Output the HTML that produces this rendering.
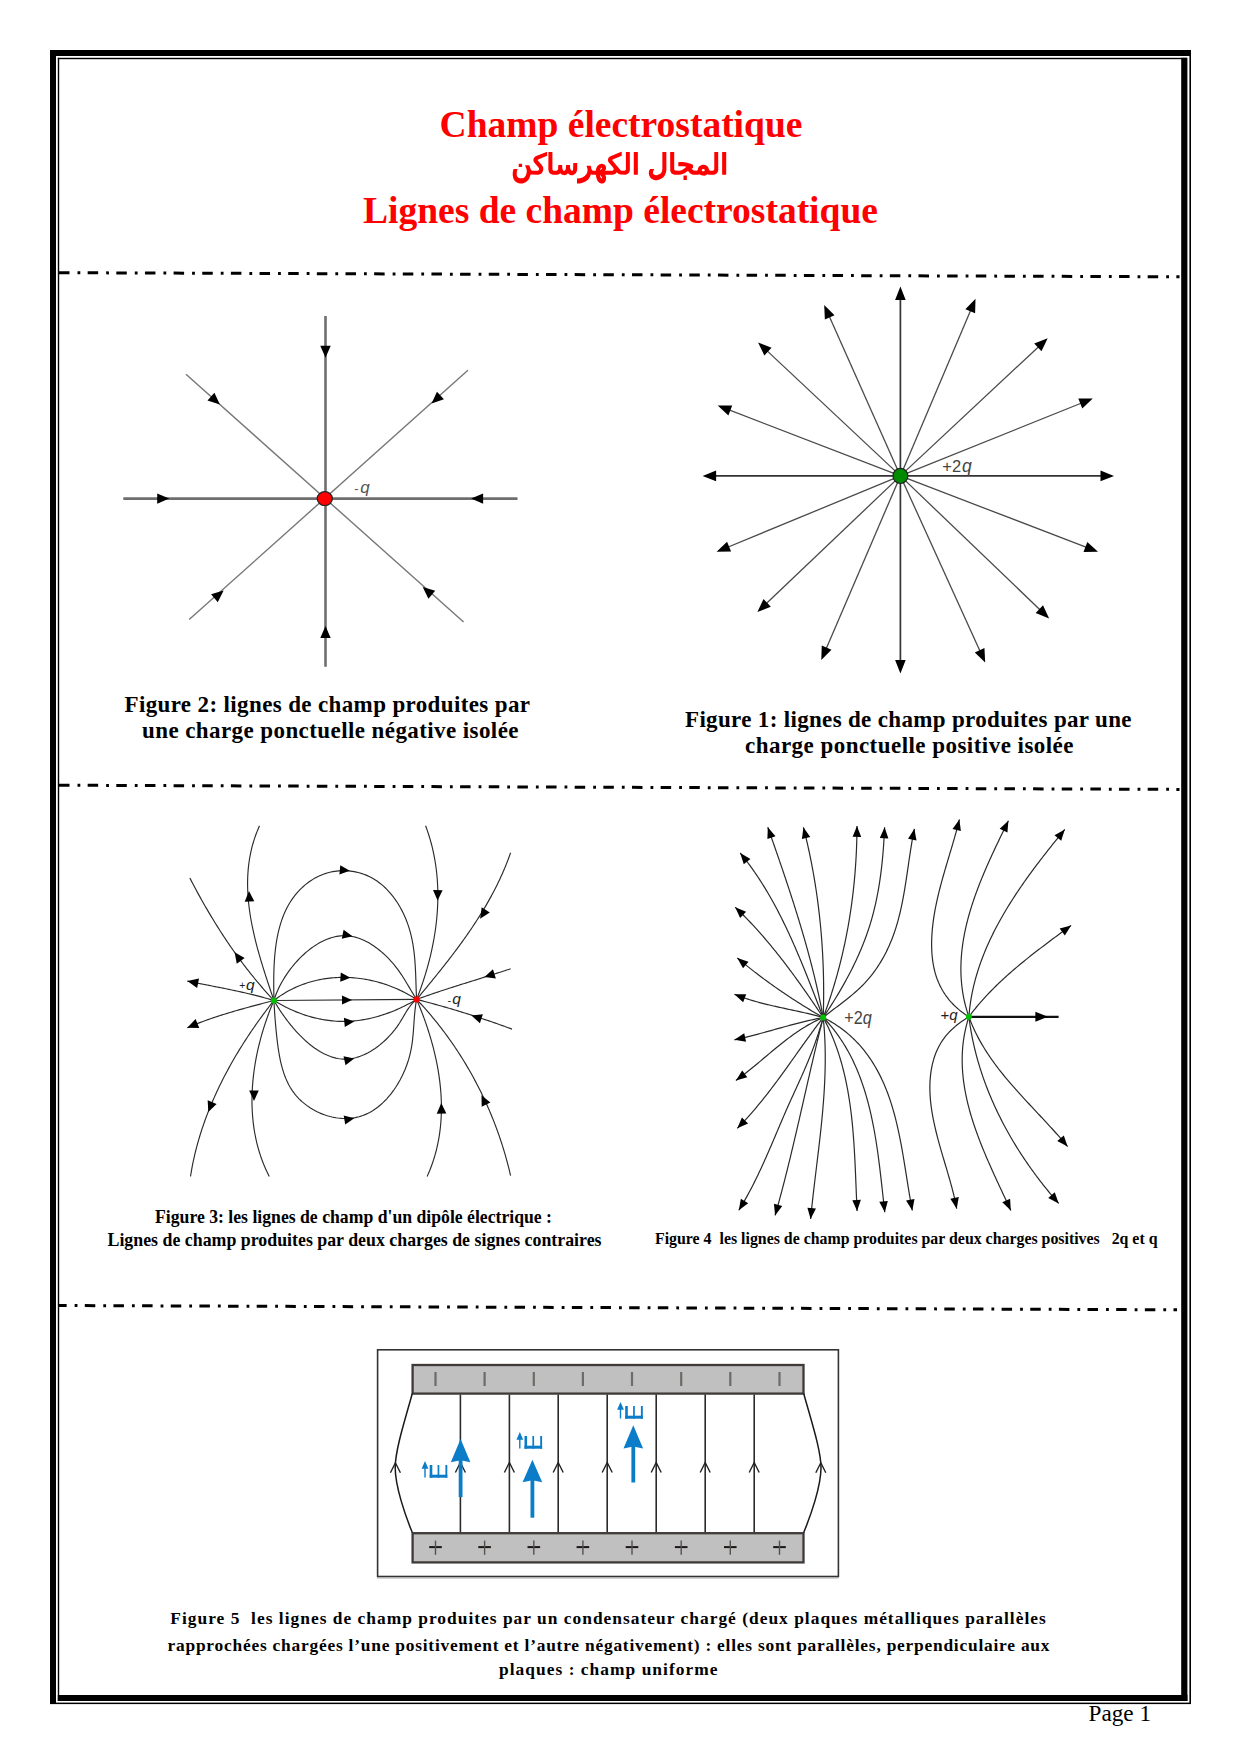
<!DOCTYPE html>
<html><head><meta charset="utf-8"><title>Champ électrostatique</title>
<style>html,body{margin:0;padding:0;background:#fff}body{width:1240px;height:1754px;position:relative;overflow:hidden;font-family:"Liberation Serif",serif}</style>
</head><body>
<svg width="1240" height="1754" viewBox="0 0 1240 1754" style="position:absolute;left:0;top:0"><g fill="#000"><rect x="50" y="50" width="6" height="1654"/><rect x="50" y="50" width="1141" height="6"/><rect x="1189.4" y="50" width="1.6" height="1654"/><rect x="50" y="1702.6" width="1141" height="1.5"/><rect x="57.8" y="57.8" width="1.4" height="1643.2"/><rect x="57.8" y="57.8" width="1129.2" height="1.4"/><rect x="1181.2" y="57.8" width="6.2" height="1643.2"/><rect x="57.8" y="1695" width="1129.6" height="6"/></g><line x1="59.0" y1="272.7" x2="1179.5" y2="276.8" stroke="#000" stroke-width="3" stroke-dasharray="10.5 8 2.8 7.35" stroke-dashoffset="0.00"/><line x1="59.0" y1="785.2" x2="1179.5" y2="789.4" stroke="#000" stroke-width="3" stroke-dasharray="10.5 8 2.8 7.35" stroke-dashoffset="0.00"/><line x1="59.0" y1="1305.5" x2="1177.0" y2="1309.8" stroke="#000" stroke-width="3" stroke-dasharray="10.5 8 2.8 7.35" stroke-dashoffset="2.85"/><g font-family="Liberation Serif" font-weight="bold" fill="#ff0000" font-size="37.5"><text x="439.6" y="137.4">Champ électrostatique</text><text x="363" y="223.2">Lignes de champ électrostatique</text></g><path fill="#ff0000" fill-rule="evenodd" d="M683.49,175.52 683.49,179.95 686.85,179.95 686.85,175.52ZM518.71,163.76 518.71,167.08 522.08,167.08 522.08,163.76ZM722.50,151.97 722.14,152.24 722.14,174.41 722.50,174.73 725.86,174.73 726.21,174.41 726.21,152.24 725.86,151.97ZM670.14,152.24 670.22,170.40 670.49,171.44 671.29,172.93 671.90,173.63 673.14,174.33 674.65,174.73 679.25,174.73 681.02,174.41 684.02,173.54 684.91,173.10 688.00,170.66 689.06,172.23 690.30,173.45 691.54,174.15 693.57,174.73 697.82,174.73 699.50,174.24 700.21,174.73 701.45,175.30 704.37,175.64 706.31,174.95 707.20,174.24 709.50,174.73 713.83,174.73 714.71,174.50 716.39,173.71 717.01,173.10 717.90,171.53 718.25,170.05 718.16,152.06 714.62,151.97 714.27,152.24 714.27,168.65 714.01,169.96 713.74,170.31 712.94,170.66 710.29,170.66 709.67,170.48 708.88,169.44 708.61,168.13 707.81,166.73 706.22,165.51 705.25,165.07 703.83,164.72 702.60,164.72 701.80,164.90 699.68,165.94 698.62,167.08 698.00,168.39 697.73,169.96 697.20,170.48 696.85,170.66 693.75,170.57 692.87,170.05 691.54,168.56 692.96,168.04 693.04,167.86 693.04,164.98 692.87,164.72 690.66,163.85 685.88,162.54 682.70,162.10 679.78,162.10 678.45,162.28 678.27,162.54 678.36,166.03 678.72,166.21 683.05,166.21 685.17,166.47 686.50,166.82 683.31,169.35 681.46,170.31 679.51,170.66 675.09,170.57 674.47,170.05 674.20,169.26 674.20,152.24 673.85,151.97 670.49,151.97ZM702.60,169.00 703.75,168.91 704.10,169.00 704.54,169.44 704.72,170.57 704.19,171.36 702.68,171.36 701.71,170.92 701.98,169.70ZM666.33,152.06 662.71,151.97 662.35,152.24 662.35,169.09 662.00,171.18 661.47,172.40 660.58,173.45 658.73,174.50 656.52,175.18 654.83,175.07 653.68,174.33 653.15,173.80 652.89,173.19 653.07,171.53 654.04,169.52 653.95,169.09 650.06,169.09 649.26,170.40 649.00,171.27 648.82,172.75 648.91,174.06 649.17,175.18 649.79,176.77 650.68,178.02 651.56,178.82 653.42,179.84 655.37,180.29 656.60,180.29 658.99,179.72 661.56,178.59 663.06,177.45 664.56,175.64 665.27,174.33 666.07,172.06 666.42,169.00ZM634.14,151.97 633.78,152.24 633.78,174.41 634.14,174.73 637.50,174.73 637.85,174.41 637.85,152.24 637.50,151.97ZM548.43,152.06 548.34,169.61 548.79,171.62 549.32,172.67 550.02,173.54 551.35,174.33 552.86,174.73 557.28,174.73 558.87,174.24 560.37,173.37 561.35,174.24 562.50,174.84 564.62,175.18 566.65,174.50 567.98,173.37 568.69,174.06 569.75,174.73 570.90,175.18 572.58,175.18 574.61,174.24 575.85,173.10 576.74,171.53 577.18,169.79 577.27,163.24 576.91,162.98 573.29,163.06 573.11,169.17 572.84,170.13 572.22,170.75 571.61,170.75 571.34,170.57 570.37,169.26 570.10,168.21 570.01,165.25 569.66,164.98 566.12,165.07 565.95,167.78 565.68,169.17 565.24,170.13 564.62,170.66 563.65,170.66 563.20,170.40 562.76,169.79 562.23,168.13 562.23,165.25 561.88,164.98 558.60,164.98 558.25,165.16 558.16,168.91 557.81,169.70 557.01,170.48 556.48,170.66 553.65,170.66 553.12,170.48 552.68,170.05 552.41,169.26 552.41,152.24 552.06,151.97ZM629.80,152.06 626.27,151.97 625.91,152.24 625.91,168.74 625.74,169.79 625.12,170.48 624.59,170.66 621.49,170.66 620.78,170.40 612.20,160.18 612.38,159.75 613.26,159.22 621.67,155.82 621.76,152.06 621.67,151.89 621.31,151.80 609.99,156.43 608.84,157.39 608.31,158.35 608.05,159.22 607.96,160.36 608.13,161.32 608.58,162.19 613.09,167.60 613.62,168.48 613.71,169.26 613.53,169.79 612.91,170.40 612.29,170.66 605.30,170.66 605.22,170.57 606.01,169.09 606.01,167.43 605.75,166.38 605.30,165.51 604.69,164.81 602.83,163.94 601.50,163.85 600.53,164.02 599.20,164.55 598.32,165.16 597.34,166.21 596.64,167.43 596.11,169.00 595.84,170.66 592.92,170.66 592.48,170.48 591.95,169.96 591.42,169.00 591.15,167.34 590.62,165.77 587.00,165.68 586.73,165.77 586.64,166.29 587.44,168.74 587.53,170.83 587.26,172.32 586.64,173.63 584.96,175.64 582.93,177.23 580.01,178.25 577.00,178.48 577.00,183.47 579.04,183.59 581.07,183.25 584.43,182.00 586.55,180.75 588.15,179.38 589.21,178.02 590.09,176.43 590.89,174.33 592.21,174.73 595.84,174.73 596.46,178.36 597.52,180.86 598.76,182.34 599.73,183.02 601.24,183.59 602.30,183.59 603.45,183.25 604.60,182.45 605.66,180.63 606.01,178.93 606.01,176.89 605.22,174.84 605.30,174.73 612.73,174.73 613.62,174.50 615.48,173.71 616.89,172.23 617.33,172.84 618.39,173.71 620.61,174.61 625.47,174.73 627.50,174.06 628.92,172.75 629.54,171.53 629.89,170.05ZM600.09,175.18 600.97,175.98 602.12,177.45 602.12,178.13 601.85,178.59 601.50,178.59 600.88,177.79 600.17,176.20 600.00,175.41ZM601.85,167.69 602.12,168.04 602.12,168.56 601.41,169.35 600.09,170.31 600.09,169.79 600.53,168.82 601.41,167.78ZM547.11,151.89 546.49,151.89 535.61,156.34 534.28,157.39 533.75,158.35 533.49,159.22 533.40,160.36 533.57,161.32 534.02,162.19 538.53,167.60 539.06,168.48 539.15,169.26 538.97,169.79 538.35,170.40 537.73,170.66 531.98,170.66 530.65,169.26 530.04,167.25 529.15,165.33 525.26,165.33 525.17,165.86 526.23,168.13 526.76,170.57 526.67,172.75 526.06,174.84 525.52,175.98 524.02,177.68 522.43,178.25 520.31,178.36 518.89,178.02 518.10,177.57 517.21,176.43 516.86,175.41 516.68,173.98 516.77,172.40 517.03,170.83 517.56,169.44 517.48,169.00 513.50,169.00 512.79,171.88 512.70,175.07 513.14,177.68 514.20,180.07 515.09,181.20 516.95,182.56 518.63,183.25 520.22,183.59 522.08,183.59 523.23,183.36 525.61,182.34 527.47,180.86 528.62,179.38 529.33,178.13 530.65,174.61 538.17,174.73 539.94,174.24 541.09,173.63 542.06,172.67 543.04,170.75 543.30,169.35 543.21,167.86 542.86,166.82 541.98,165.33 538.08,160.79 537.64,160.01 538.70,159.22 547.11,155.82Z"/><g font-family="Liberation Serif" font-weight="bold" fill="#000"><text x="124.5" y="711.8" font-size="23" textLength="405.5" lengthAdjust="spacing">Figure 2: lignes de champ produites par</text><text x="142" y="738.2" font-size="23" textLength="376.5" lengthAdjust="spacing">une charge ponctuelle négative isolée</text><text x="685" y="727.0" font-size="23" textLength="446.5" lengthAdjust="spacing">Figure 1: lignes de champ produites par une</text><text x="745" y="752.6" font-size="23" textLength="328.5" lengthAdjust="spacing">charge ponctuelle positive isolée</text><text x="155" y="1222.6" font-size="19" textLength="397" lengthAdjust="spacingAndGlyphs">Figure 3: les lignes de champ d'un dipôle électrique :</text><text x="107.5" y="1246.2" font-size="19" textLength="494" lengthAdjust="spacingAndGlyphs">Lignes de champ produites par deux charges de signes contraires</text><text x="655" y="1243.6" font-size="17" textLength="502.5" lengthAdjust="spacingAndGlyphs" xml:space="preserve">Figure 4  les lignes de champ produites par deux charges positives   2q et q</text><text x="170.3" y="1623.9" font-size="17.4" textLength="875.5" lengthAdjust="spacing" xml:space="preserve">Figure 5  les lignes de champ produites par un condensateur chargé (deux plaques métalliques parallèles</text><text x="167.5" y="1650.6" font-size="17.4" textLength="882" lengthAdjust="spacing">rapprochées chargées l’une positivement et l’autre négativement) : elles sont parallèles, perpendiculaire aux</text><text x="499" y="1674.9" font-size="17.4" textLength="218.5" lengthAdjust="spacing">plaques : champ uniforme</text></g><text x="1088.5" y="1721" font-family="Liberation Serif" font-size="22.5" textLength="62.5" lengthAdjust="spacingAndGlyphs" fill="#000">Page 1</text><g><line x1="325.5" y1="316" x2="325.5" y2="666.8" stroke="#6e6e6e" stroke-width="2.6"/><line x1="123.3" y1="498.6" x2="517.5" y2="498.6" stroke="#6e6e6e" stroke-width="2.6"/><line x1="186" y1="374.3" x2="463.6" y2="622" stroke="#777" stroke-width="1.4"/><line x1="467.9" y1="370.3" x2="189.2" y2="619.6" stroke="#777" stroke-width="1.4"/><path d="M325.5,357.8L320.3,345.8L330.7,345.8Z" fill="#000"/><path d="M325.5,626.1L330.7,638.1L320.3,638.1Z" fill="#000"/><path d="M169.2,498.6L157.2,503.8L157.2,493.4Z" fill="#000"/><path d="M471.1,498.6L483.1,493.4L483.1,503.8Z" fill="#000"/><path d="M219.9,404.6L207.49,400.48L214.42,392.73Z" fill="#000"/><path d="M431.6,403.6L436.93,391.66L443.96,399.32Z" fill="#000"/><path d="M223.6,590.6L217.78,602.31L211.07,594.36Z" fill="#000"/><path d="M422.7,587L435.2,590.85L428.44,598.75Z" fill="#000"/><ellipse cx="324.8" cy="498.6" rx="7.6" ry="6.9" fill="#ff0000" stroke="#222" stroke-width="1.2"/><text x="354.3" y="493.2" font-family="Liberation Sans" font-size="17" fill="#555"><tspan font-size="13">-</tspan><tspan dx="1.6" font-style="italic">q</tspan></text></g><g><line x1="900.4" y1="475.9" x2="900.4" y2="294.5" stroke="#333" stroke-width="1.7"/><path d="M900.4,286.5L905.7,300L895.1,300Z" fill="#000"/><line x1="900.4" y1="475.9" x2="900.4" y2="665.4" stroke="#333" stroke-width="1.7"/><path d="M900.4,673.4L895.1,659.9L905.7,659.9Z" fill="#000"/><line x1="900.4" y1="475.9" x2="710.6" y2="475.9" stroke="#333" stroke-width="1.7"/><path d="M702.6,475.9L716.1,470.6L716.1,481.2Z" fill="#000"/><line x1="900.4" y1="475.9" x2="1106" y2="475.9" stroke="#333" stroke-width="1.7"/><path d="M1114,475.9L1100.5,481.2L1100.5,470.6Z" fill="#000"/><line x1="900.4" y1="475.9" x2="827.46" y2="312.31" stroke="#4a4a4a" stroke-width="1.3"/><path d="M824.2,305L834.54,315.17L824.86,319.49Z" fill="#000"/><line x1="900.4" y1="475.9" x2="972.38" y2="306.17" stroke="#4a4a4a" stroke-width="1.3"/><path d="M975.5,298.8L975.11,313.3L965.35,309.16Z" fill="#000"/><line x1="900.4" y1="475.9" x2="763.93" y2="347.87" stroke="#4a4a4a" stroke-width="1.3"/><path d="M758.1,342.4L771.57,347.77L764.32,355.5Z" fill="#000"/><line x1="900.4" y1="475.9" x2="1041.86" y2="343.66" stroke="#4a4a4a" stroke-width="1.3"/><path d="M1047.7,338.2L1041.46,351.29L1034.22,343.55Z" fill="#000"/><line x1="900.4" y1="475.9" x2="725.17" y2="408.47" stroke="#4a4a4a" stroke-width="1.3"/><path d="M717.7,405.6L732.2,405.5L728.4,415.39Z" fill="#000"/><line x1="900.4" y1="475.9" x2="1085.38" y2="401.49" stroke="#4a4a4a" stroke-width="1.3"/><path d="M1092.8,398.5L1082.25,408.46L1078.3,398.62Z" fill="#000"/><line x1="900.4" y1="475.9" x2="723.99" y2="548.75" stroke="#4a4a4a" stroke-width="1.3"/><path d="M716.6,551.8L727.06,541.75L731.1,551.55Z" fill="#000"/><line x1="900.4" y1="475.9" x2="1090.53" y2="548.93" stroke="#4a4a4a" stroke-width="1.3"/><path d="M1098,551.8L1083.5,551.91L1087.3,542.01Z" fill="#000"/><line x1="900.4" y1="475.9" x2="763.19" y2="606.58" stroke="#4a4a4a" stroke-width="1.3"/><path d="M757.4,612.1L763.52,598.95L770.83,606.63Z" fill="#000"/><line x1="900.4" y1="475.9" x2="1043.33" y2="612.96" stroke="#4a4a4a" stroke-width="1.3"/><path d="M1049.1,618.5L1035.69,612.98L1043.02,605.33Z" fill="#000"/><line x1="900.4" y1="475.9" x2="824.46" y2="652.65" stroke="#4a4a4a" stroke-width="1.3"/><path d="M821.3,660L821.76,645.5L831.5,649.69Z" fill="#000"/><line x1="900.4" y1="475.9" x2="981.89" y2="655.22" stroke="#4a4a4a" stroke-width="1.3"/><path d="M985.2,662.5L974.79,652.4L984.44,648.02Z" fill="#000"/><ellipse cx="900.4" cy="475.9" rx="7.4" ry="7.6" fill="#008a00" stroke="#222" stroke-width="1.2"/><text x="942.3" y="471.8" font-family="Liberation Sans" font-size="16.5" fill="#444">+2<tspan dx="0.8" font-style="italic" font-size="17.5">q</tspan></text></g><g fill="none" stroke="#2b2b2b" stroke-width="1.15"><path d="M273.90,1000.50L273.88,998.72L273.85,996.92L273.83,995.08L273.81,993.23L273.79,991.35L273.77,989.45L273.75,987.53L273.74,985.59L273.74,983.64L273.74,981.66L273.75,979.67L273.77,977.67L273.80,975.65L273.84,973.61L273.89,971.57L273.95,969.52L274.03,967.45L274.12,965.38L274.23,963.31L274.35,961.22L274.49,959.13L274.65,957.04L274.83,954.95L275.03,952.85L275.25,950.76L275.49,948.67L275.75,946.58L276.04,944.49L276.35,942.40L276.69,940.33L277.06,938.26L277.45,936.20L277.88,934.14L278.33,932.10L278.81,930.07L279.33,928.05L279.88,926.05L280.46,924.06L281.08,922.08L281.73,920.13L282.42,918.19L283.14,916.27L283.91,914.37L284.71,912.50L285.56,910.64L286.45,908.81L287.37,907.01L288.35,905.23L289.36,903.49L290.42,901.76L291.53,900.07L292.68,898.42L293.87,896.79L295.11,895.20L296.39,893.64L297.70,892.13L299.06,890.65L300.45,889.21L301.88,887.82L303.35,886.47L304.85,885.16L306.38,883.90L307.95,882.69L309.55,881.53L311.19,880.42L312.85,879.37L314.54,878.36L316.26,877.42L318.00,876.53L319.78,875.70L321.57,874.93L323.39,874.23L325.24,873.58L327.11,873.00L328.99,872.49L330.90,872.04L332.82,871.66L334.75,871.35L336.70,871.09L338.65,870.91L340.61,870.78L342.57,870.72L344.54,870.73L346.50,870.79L348.46,870.92L350.41,871.12L352.35,871.37L354.29,871.69L356.21,872.07L358.11,872.51L360.00,873.02L361.86,873.58L363.70,874.21L365.52,874.90L367.31,875.64L369.06,876.45L370.79,877.32L372.49,878.24L374.16,879.22L375.79,880.26L377.40,881.34L378.97,882.48L380.51,883.67L382.02,884.91L383.50,886.19L384.94,887.52L386.36,888.90L387.74,890.31L389.09,891.77L390.40,893.27L391.68,894.81L392.93,896.38L394.15,897.99L395.33,899.63L396.48,901.30L397.59,903.01L398.67,904.75L399.71,906.51L400.72,908.30L401.70,910.12L402.64,911.96L403.54,913.82L404.41,915.70L405.24,917.60L406.04,919.52L406.80,921.46L407.52,923.41L408.21,925.38L408.86,927.36L409.47,929.34L410.05,931.34L410.59,933.35L411.09,935.36L411.56,937.38L411.99,939.40L412.39,941.43L412.76,943.47L413.11,945.50L413.42,947.54L413.71,949.59L413.97,951.63L414.22,953.68L414.43,955.72L414.63,957.77L414.81,959.81L414.97,961.85L415.12,963.89L415.25,965.93L415.37,967.96L415.47,969.99L415.57,972.01L415.65,974.03L415.73,976.04L415.80,978.04L415.87,980.03L415.93,982.02L416.00,984.00L416.06,985.96L416.12,987.92L416.19,989.87L416.26,991.80L416.33,993.72L416.41,995.63L416.50,997.52L416.60,999.40"/><path d="M273.90,1000.50L274.44,998.77L275.03,997.02L275.67,995.26L276.36,993.48L277.10,991.70L277.89,989.92L278.72,988.12L279.61,986.33L280.53,984.53L281.50,982.74L282.52,980.95L283.57,979.17L284.67,977.39L285.80,975.62L286.98,973.87L288.19,972.12L289.44,970.40L290.73,968.69L292.04,967.00L293.40,965.34L294.78,963.69L296.20,962.08L297.64,960.49L299.12,958.93L300.62,957.41L302.15,955.92L303.71,954.46L305.29,953.04L306.89,951.67L308.52,950.33L310.17,949.04L311.84,947.80L313.52,946.61L315.23,945.46L316.96,944.37L318.70,943.33L320.45,942.35L322.22,941.43L324.01,940.57L325.80,939.77L327.61,939.04L329.42,938.37L331.25,937.78L333.08,937.25L334.92,936.80L336.77,936.42L338.62,936.12L340.47,935.90L342.32,935.76L344.18,935.70L346.04,935.73L347.90,935.84L349.75,936.05L351.60,936.33L353.45,936.70L355.29,937.15L357.13,937.68L358.95,938.28L360.77,938.96L362.58,939.70L364.38,940.52L366.16,941.40L367.93,942.34L369.69,943.34L371.43,944.40L373.15,945.52L374.86,946.69L376.54,947.91L378.21,949.18L379.85,950.49L381.47,951.85L383.06,953.25L384.63,954.69L386.17,956.16L387.69,957.67L389.17,959.21L390.63,960.78L392.05,962.37L393.44,963.99L394.80,965.63L396.12,967.29L397.41,968.97L398.65,970.66L399.86,972.36L401.04,974.08L402.18,975.80L403.29,977.52L404.38,979.25L405.44,980.98L406.48,982.71L407.51,984.43L408.53,986.15L409.53,987.86L410.53,989.56L411.53,991.24L412.53,992.91L413.53,994.57L414.54,996.20L415.56,997.81L416.60,999.40"/><path d="M273.90,1000.50L275.58,999.22L277.27,997.98L278.98,996.77L280.70,995.61L282.44,994.48L284.20,993.39L285.97,992.34L287.76,991.32L289.56,990.34L291.37,989.40L293.20,988.50L295.04,987.63L296.89,986.80L298.75,986.01L300.62,985.25L302.51,984.53L304.40,983.84L306.31,983.19L308.22,982.57L310.15,981.99L312.08,981.45L314.02,980.94L315.97,980.46L317.92,980.02L319.89,979.62L321.85,979.24L323.83,978.91L325.81,978.60L327.79,978.33L329.78,978.10L331.77,977.89L333.77,977.72L335.77,977.59L337.77,977.48L339.78,977.41L341.78,977.37L343.79,977.37L345.80,977.39L347.81,977.45L349.82,977.54L351.83,977.66L353.84,977.82L355.84,978.00L357.85,978.22L359.85,978.46L361.85,978.74L363.84,979.05L365.84,979.39L367.82,979.76L369.81,980.15L371.79,980.58L373.76,981.04L375.73,981.53L377.69,982.05L379.64,982.59L381.59,983.17L383.53,983.77L385.46,984.41L387.38,985.07L389.30,985.76L391.20,986.48L393.09,987.22L394.98,988.00L396.85,988.80L398.71,989.63L400.56,990.49L402.40,991.37L404.22,992.28L406.03,993.22L407.83,994.19L409.61,995.18L411.38,996.19L413.14,997.24L414.88,998.31L416.60,999.40"/><path d="M273.90,1000.50L274.00,1002.44L274.11,1004.38L274.23,1006.32L274.35,1008.26L274.47,1010.20L274.60,1012.15L274.73,1014.10L274.88,1016.05L275.02,1018.01L275.18,1019.97L275.34,1021.95L275.51,1023.92L275.68,1025.91L275.86,1027.90L276.06,1029.90L276.26,1031.91L276.46,1033.93L276.68,1035.96L276.91,1038.01L277.14,1040.06L277.39,1042.12L277.65,1044.19L277.93,1046.27L278.22,1048.35L278.54,1050.43L278.87,1052.51L279.23,1054.59L279.60,1056.66L280.01,1058.73L280.44,1060.79L280.91,1062.84L281.40,1064.88L281.93,1066.90L282.49,1068.91L283.09,1070.90L283.73,1072.87L284.41,1074.83L285.13,1076.75L285.89,1078.65L286.71,1080.53L287.56,1082.37L288.47,1084.18L289.43,1085.96L290.44,1087.71L291.51,1089.42L292.64,1091.08L293.82,1092.71L295.05,1094.30L296.34,1095.84L297.68,1097.34L299.08,1098.80L300.51,1100.21L301.99,1101.58L303.52,1102.90L305.09,1104.17L306.69,1105.40L308.33,1106.57L310.01,1107.70L311.72,1108.77L313.46,1109.80L315.22,1110.77L317.02,1111.68L318.84,1112.55L320.68,1113.36L322.54,1114.11L324.42,1114.80L326.32,1115.44L328.23,1116.02L330.15,1116.54L332.08,1117.01L334.02,1117.41L335.97,1117.75L337.92,1118.02L339.87,1118.24L341.83,1118.38L343.78,1118.47L345.72,1118.49L347.66,1118.44L349.59,1118.32L351.51,1118.14L353.42,1117.88L355.31,1117.56L357.19,1117.16L359.05,1116.70L360.89,1116.16L362.70,1115.55L364.49,1114.86L366.26,1114.11L368.00,1113.28L369.72,1112.39L371.41,1111.44L373.07,1110.42L374.71,1109.34L376.32,1108.21L377.90,1107.01L379.45,1105.77L380.98,1104.47L382.48,1103.12L383.94,1101.71L385.38,1100.27L386.78,1098.78L388.15,1097.24L389.50,1095.67L390.81,1094.05L392.08,1092.40L393.33,1090.71L394.53,1088.99L395.71,1087.24L396.85,1085.46L397.95,1083.66L399.02,1081.82L400.06,1079.97L401.05,1078.09L402.01,1076.19L402.93,1074.28L403.81,1072.35L404.66,1070.41L405.46,1068.46L406.22,1066.50L406.95,1064.52L407.63,1062.55L408.27,1060.57L408.87,1058.59L409.43,1056.61L409.94,1054.63L410.41,1052.66L410.84,1050.69L411.23,1048.73L411.58,1046.77L411.89,1044.82L412.17,1042.87L412.43,1040.92L412.65,1038.98L412.86,1037.04L413.05,1035.10L413.22,1033.16L413.37,1031.21L413.52,1029.27L413.66,1027.32L413.79,1025.37L413.93,1023.42L414.06,1021.46L414.21,1019.50L414.36,1017.53L414.52,1015.55L414.69,1013.56L414.89,1011.57L415.10,1009.57L415.34,1007.56L415.61,1005.54L415.91,1003.50L416.23,1001.46L416.60,999.40"/><path d="M273.90,1000.50L274.79,1002.02L275.71,1003.56L276.66,1005.13L277.65,1006.72L278.67,1008.32L279.73,1009.94L280.81,1011.57L281.93,1013.22L283.08,1014.87L284.26,1016.52L285.46,1018.18L286.70,1019.84L287.96,1021.50L289.25,1023.15L290.57,1024.80L291.92,1026.44L293.29,1028.06L294.68,1029.67L296.10,1031.27L297.55,1032.84L299.02,1034.40L300.51,1035.93L302.02,1037.43L303.55,1038.90L305.11,1040.34L306.68,1041.75L308.28,1043.12L309.89,1044.45L311.52,1045.75L313.17,1046.99L314.84,1048.19L316.52,1049.34L318.22,1050.45L319.93,1051.49L321.66,1052.48L323.41,1053.41L325.16,1054.29L326.93,1055.09L328.71,1055.83L330.51,1056.51L332.31,1057.11L334.13,1057.64L335.95,1058.09L337.79,1058.46L339.63,1058.75L341.48,1058.96L343.34,1059.09L345.20,1059.12L347.07,1059.07L348.95,1058.92L350.82,1058.68L352.70,1058.36L354.58,1057.95L356.46,1057.46L358.34,1056.89L360.20,1056.24L362.06,1055.52L363.91,1054.73L365.75,1053.87L367.58,1052.95L369.39,1051.96L371.18,1050.91L372.95,1049.81L374.70,1048.65L376.43,1047.44L378.13,1046.18L379.81,1044.87L381.46,1043.52L383.08,1042.13L384.66,1040.70L386.21,1039.24L387.73,1037.74L389.20,1036.21L390.64,1034.66L392.03,1033.07L393.38,1031.47L394.69,1029.85L395.94,1028.21L397.15,1026.56L398.30,1024.90L399.41,1023.22L400.46,1021.55L401.47,1019.87L402.46,1018.19L403.44,1016.52L404.41,1014.85L405.39,1013.20L406.39,1011.56L407.42,1009.94L408.50,1008.34L409.64,1006.77L410.85,1005.22L412.13,1003.71L413.51,1002.23L415.00,1000.80L416.60,999.40"/><path d="M273.90,1000.50L275.66,1001.56L277.43,1002.60L279.21,1003.62L281.00,1004.61L282.81,1005.57L284.62,1006.51L286.44,1007.43L288.28,1008.32L290.12,1009.18L291.97,1010.01L293.83,1010.82L295.69,1011.60L297.57,1012.35L299.45,1013.08L301.34,1013.78L303.24,1014.45L305.14,1015.09L307.05,1015.70L308.97,1016.28L310.89,1016.83L312.82,1017.36L314.75,1017.85L316.69,1018.31L318.64,1018.74L320.58,1019.14L322.54,1019.51L324.49,1019.85L326.45,1020.16L328.41,1020.43L330.38,1020.67L332.35,1020.88L334.32,1021.05L336.29,1021.20L338.27,1021.31L340.24,1021.38L342.22,1021.42L344.20,1021.43L346.18,1021.40L348.16,1021.34L350.14,1021.24L352.12,1021.11L354.10,1020.94L356.07,1020.74L358.05,1020.51L360.02,1020.24L362.00,1019.94L363.96,1019.61L365.93,1019.25L367.89,1018.86L369.85,1018.44L371.81,1017.99L373.76,1017.50L375.71,1016.99L377.65,1016.46L379.59,1015.89L381.52,1015.30L383.44,1014.67L385.36,1014.03L387.27,1013.35L389.17,1012.65L391.07,1011.93L392.95,1011.18L394.83,1010.41L396.70,1009.61L398.57,1008.79L400.42,1007.94L402.26,1007.08L404.09,1006.19L405.91,1005.28L407.72,1004.35L409.52,1003.40L411.31,1002.43L413.09,1001.44L414.85,1000.43L416.60,999.40"/><path d="M273.90,1000.50L416.60,999.40"/><path d="M273.90,1000.50L273.27,998.63L272.64,996.75L272.01,994.87L271.38,992.99L270.75,991.10L270.11,989.20L269.48,987.30L268.85,985.40L268.22,983.49L267.59,981.58L266.96,979.66L266.33,977.74L265.71,975.82L265.09,973.89L264.48,971.96L263.87,970.02L263.26,968.08L262.66,966.14L262.06,964.20L261.47,962.25L260.88,960.30L260.31,958.34L259.74,956.38L259.17,954.42L258.62,952.46L258.07,950.49L257.53,948.53L257.01,946.56L256.49,944.58L255.98,942.61L255.48,940.63L255.00,938.65L254.52,936.67L254.06,934.69L253.61,932.70L253.17,930.71L252.74,928.73L252.33,926.74L251.93,924.75L251.55,922.76L251.18,920.76L250.83,918.77L250.49,916.77L250.17,914.78L249.87,912.78L249.58,910.79L249.31,908.79L249.06,906.79L248.83,904.79L248.61,902.80L248.42,900.80L248.24,898.80L248.08,896.80L247.95,894.80L247.83,892.81L247.74,890.81L247.67,888.81L247.62,886.82L247.60,884.82L247.59,882.83L247.61,880.83L247.66,878.84L247.73,876.85L247.82,874.86L247.94,872.87L248.09,870.88L248.26,868.90L248.45,866.91L248.68,864.93L248.93,862.95L249.21,860.97L249.52,859.00L249.86,857.02L250.22,855.05L250.62,853.08L251.04,851.11L251.50,849.15L251.98,847.18L252.50,845.22L253.05,843.27L253.63,841.31L254.25,839.36L254.90,837.41L255.58,835.47L256.29,833.53L257.04,831.59L257.83,829.66L258.65,827.73L259.50,825.80"/><path d="M273.90,1000.50L272.52,999.02L271.15,997.54L269.78,996.05L268.43,994.56L267.08,993.06L265.74,991.55L264.40,990.04L263.08,988.53L261.76,987.00L260.45,985.47L259.14,983.94L257.84,982.40L256.55,980.86L255.27,979.31L254.00,977.75L252.73,976.19L251.46,974.62L250.21,973.05L248.96,971.47L247.72,969.89L246.49,968.31L245.26,966.71L244.04,965.12L242.83,963.51L241.62,961.91L240.42,960.30L239.23,958.68L238.04,957.06L236.86,955.43L235.69,953.80L234.52,952.17L233.36,950.53L232.21,948.88L231.06,947.23L229.92,945.58L228.78,943.92L227.65,942.26L226.53,940.59L225.41,938.92L224.30,937.24L223.20,935.57L222.10,933.88L221.01,932.19L219.92,930.50L218.84,928.81L217.77,927.11L216.70,925.40L215.63,923.70L214.58,921.98L213.53,920.27L212.48,918.55L211.44,916.83L210.41,915.10L209.38,913.37L208.35,911.64L207.34,909.90L206.32,908.16L205.32,906.42L204.31,904.67L203.32,902.92L202.33,901.17L201.34,899.41L200.36,897.65L199.38,895.89L198.41,894.12L197.45,892.36L196.49,890.58L195.53,888.81L194.58,887.03L193.64,885.25L192.69,883.47L191.76,881.68L190.83,879.89L189.90,878.10"/><path d="M273.90,1000.50L271.97,999.91L270.03,999.34L268.09,998.78L266.14,998.22L264.20,997.68L262.25,997.15L260.30,996.63L258.35,996.12L256.40,995.62L254.44,995.12L252.48,994.64L250.52,994.16L248.56,993.69L246.60,993.23L244.63,992.78L242.66,992.33L240.70,991.89L238.73,991.46L236.75,991.03L234.78,990.61L232.81,990.19L230.83,989.77L228.86,989.36L226.88,988.96L224.91,988.56L222.93,988.16L220.95,987.76L218.97,987.37L216.99,986.98L215.01,986.59L213.03,986.20L211.05,985.81L209.07,985.42L207.09,985.03L205.11,984.65L203.13,984.26L201.15,983.87L199.17,983.48L197.19,983.09L195.21,982.70L193.23,982.30L191.25,981.91L189.28,981.50L187.30,981.10"/><path d="M273.90,1000.50L271.95,1001.01L270.00,1001.52L268.04,1002.03L266.09,1002.54L264.14,1003.05L262.19,1003.56L260.23,1004.08L258.28,1004.59L256.33,1005.11L254.38,1005.63L252.43,1006.16L250.48,1006.68L248.53,1007.21L246.58,1007.75L244.63,1008.28L242.69,1008.83L240.74,1009.37L238.80,1009.92L236.86,1010.48L234.92,1011.04L232.98,1011.61L231.05,1012.18L229.11,1012.76L227.18,1013.35L225.25,1013.94L223.32,1014.54L221.40,1015.15L219.47,1015.76L217.56,1016.39L215.64,1017.02L213.72,1017.66L211.81,1018.31L209.91,1018.97L208.00,1019.64L206.10,1020.31L204.20,1021.00L202.31,1021.70L200.42,1022.41L198.53,1023.13L196.65,1023.86L194.77,1024.61L192.90,1025.36L191.03,1026.13L189.16,1026.91L187.30,1027.70"/><path d="M273.90,1000.50L272.68,1002.05L271.46,1003.61L270.24,1005.17L269.03,1006.74L267.83,1008.32L266.63,1009.90L265.43,1011.49L264.24,1013.09L263.06,1014.69L261.88,1016.30L260.70,1017.91L259.53,1019.53L258.36,1021.15L257.20,1022.78L256.05,1024.42L254.90,1026.06L253.76,1027.71L252.62,1029.36L251.49,1031.02L250.37,1032.69L249.25,1034.36L248.14,1036.04L247.03,1037.72L245.93,1039.40L244.84,1041.10L243.75,1042.79L242.68,1044.50L241.60,1046.21L240.54,1047.92L239.48,1049.64L238.43,1051.36L237.39,1053.09L236.35,1054.82L235.33,1056.56L234.31,1058.31L233.30,1060.06L232.29,1061.81L231.30,1063.57L230.31,1065.33L229.33,1067.10L228.36,1068.88L227.40,1070.65L226.44,1072.44L225.50,1074.22L224.56,1076.02L223.64,1077.81L222.72,1079.61L221.81,1081.42L220.91,1083.23L220.02,1085.04L219.14,1086.86L218.27,1088.68L217.41,1090.51L216.56,1092.34L215.71,1094.18L214.88,1096.02L214.06,1097.86L213.25,1099.71L212.45,1101.56L211.66,1103.42L210.88,1105.28L210.11,1107.14L209.35,1109.01L208.61,1110.88L207.87,1112.76L207.15,1114.64L206.43,1116.52L205.73,1118.40L205.04,1120.29L204.36,1122.19L203.69,1124.09L203.04,1125.99L202.40,1127.89L201.76,1129.80L201.14,1131.71L200.54,1133.62L199.94,1135.54L199.36,1137.46L198.79,1139.39L198.23,1141.31L197.69,1143.24L197.16,1145.18L196.64,1147.11L196.13,1149.05L195.64,1150.99L195.16,1152.94L194.70,1154.89L194.25,1156.84L193.81,1158.79L193.38,1160.75L192.97,1162.71L192.58,1164.67L192.19,1166.64L191.83,1168.60L191.47,1170.57L191.13,1172.55L190.81,1174.52L190.50,1176.50"/><path d="M273.90,1000.50L273.13,1002.31L272.37,1004.14L271.62,1005.97L270.89,1007.81L270.16,1009.66L269.44,1011.52L268.74,1013.39L268.05,1015.26L267.37,1017.15L266.70,1019.04L266.04,1020.94L265.40,1022.85L264.76,1024.76L264.15,1026.68L263.54,1028.61L262.95,1030.55L262.37,1032.49L261.80,1034.43L261.25,1036.39L260.71,1038.34L260.18,1040.31L259.67,1042.28L259.18,1044.25L258.70,1046.23L258.23,1048.21L257.78,1050.20L257.34,1052.19L256.92,1054.19L256.52,1056.19L256.13,1058.19L255.76,1060.20L255.40,1062.21L255.06,1064.22L254.74,1066.24L254.43,1068.25L254.14,1070.27L253.87,1072.29L253.62,1074.32L253.38,1076.34L253.16,1078.37L252.96,1080.40L252.78,1082.42L252.61,1084.45L252.47,1086.48L252.34,1088.51L252.23,1090.54L252.14,1092.57L252.07,1094.60L252.02,1096.62L251.99,1098.65L251.98,1100.68L251.99,1102.70L252.02,1104.72L252.07,1106.75L252.15,1108.77L252.24,1110.78L252.35,1112.80L252.49,1114.81L252.65,1116.82L252.83,1118.82L253.03,1120.83L253.25,1122.83L253.50,1124.82L253.76,1126.81L254.05,1128.80L254.37,1130.78L254.71,1132.76L255.07,1134.74L255.45,1136.71L255.86,1138.67L256.29,1140.63L256.74,1142.58L257.22,1144.53L257.73,1146.47L258.26,1148.40L258.81,1150.33L259.39,1152.25L260.00,1154.16L260.63,1156.07L261.28,1157.97L261.96,1159.86L262.67,1161.74L263.41,1163.62L264.17,1165.48L264.95,1167.34L265.77,1169.19L266.61,1171.03L267.48,1172.87L268.38,1174.69L269.30,1176.50"/><path d="M425.60,825.80L426.31,827.72L427.01,829.65L427.67,831.58L428.32,833.52L428.94,835.46L429.54,837.40L430.12,839.35L430.68,841.30L431.21,843.26L431.72,845.22L432.21,847.18L432.68,849.15L433.13,851.12L433.56,853.09L433.96,855.07L434.34,857.04L434.71,859.03L435.05,861.01L435.37,863.00L435.67,864.99L435.95,866.98L436.22,868.97L436.46,870.97L436.68,872.97L436.88,874.97L437.06,876.97L437.23,878.98L437.37,880.98L437.49,882.99L437.60,884.99L437.69,887.00L437.76,889.01L437.81,891.02L437.84,893.04L437.85,895.05L437.85,897.06L437.83,899.07L437.79,901.09L437.73,903.10L437.65,905.11L437.56,907.13L437.45,909.14L437.33,911.15L437.19,913.16L437.03,915.18L436.85,917.19L436.66,919.20L436.45,921.21L436.23,923.21L435.99,925.22L435.73,927.23L435.46,929.23L435.17,931.23L434.87,933.24L434.55,935.23L434.22,937.23L433.88,939.23L433.51,941.22L433.14,943.21L432.75,945.20L432.34,947.19L431.92,949.17L431.49,951.15L431.05,953.13L430.59,955.10L430.11,957.07L429.63,959.04L429.13,961.00L428.61,962.97L428.09,964.92L427.55,966.88L427.00,968.83L426.43,970.77L425.86,972.71L425.27,974.65L424.67,976.59L424.06,978.51L423.44,980.44L422.80,982.36L422.16,984.27L421.50,986.18L420.83,988.09L420.15,989.99L419.46,991.88L418.76,993.77L418.05,995.65L417.33,997.53L416.60,999.40"/><path d="M510.60,852.70L509.92,854.62L509.24,856.54L508.53,858.44L507.82,860.34L507.09,862.23L506.34,864.12L505.59,866.00L504.82,867.87L504.03,869.73L503.24,871.58L502.43,873.43L501.61,875.28L500.77,877.11L499.93,878.94L499.07,880.76L498.20,882.58L497.32,884.38L496.43,886.19L495.52,887.98L494.61,889.77L493.68,891.56L492.75,893.33L491.80,895.10L490.84,896.87L489.87,898.63L488.89,900.38L487.91,902.13L486.91,903.87L485.90,905.61L484.88,907.34L483.86,909.06L482.82,910.78L481.77,912.50L480.72,914.21L479.66,915.91L478.59,917.61L477.51,919.31L476.42,921.00L475.33,922.68L474.22,924.36L473.11,926.04L471.99,927.71L470.87,929.38L469.74,931.04L468.60,932.69L467.45,934.35L466.30,936.00L465.14,937.64L463.97,939.28L462.80,940.92L461.62,942.55L460.43,944.18L459.24,945.81L458.05,947.43L456.85,949.05L455.64,950.66L454.43,952.27L453.22,953.88L452.00,955.49L450.77,957.09L449.54,958.69L448.31,960.28L447.07,961.87L445.83,963.46L444.58,965.05L443.34,966.63L442.08,968.22L440.83,969.79L439.57,971.37L438.31,972.94L437.05,974.51L435.78,976.08L434.51,977.65L433.24,979.22L431.97,980.78L430.69,982.34L429.42,983.90L428.14,985.46L426.86,987.01L425.58,988.56L424.30,990.12L423.02,991.67L421.73,993.22L420.45,994.76L419.17,996.31L417.88,997.86L416.60,999.40"/><path d="M510.60,968.80L508.68,969.43L506.77,970.06L504.85,970.69L502.93,971.31L501.01,971.93L499.09,972.55L497.17,973.17L495.25,973.78L493.32,974.39L491.40,975.00L489.47,975.61L487.55,976.21L485.62,976.82L483.70,977.42L481.77,978.02L479.85,978.62L477.92,979.23L476.00,979.83L474.07,980.43L472.14,981.03L470.22,981.63L468.29,982.23L466.37,982.83L464.44,983.44L462.52,984.04L460.59,984.65L458.67,985.26L456.74,985.86L454.82,986.48L452.90,987.09L450.98,987.70L449.06,988.32L447.14,988.94L445.22,989.57L443.30,990.19L441.38,990.82L439.47,991.46L437.56,992.09L435.64,992.73L433.73,993.38L431.82,994.03L429.91,994.68L428.01,995.34L426.10,996.00L424.20,996.67L422.29,997.35L420.39,998.02L418.50,998.71L416.60,999.40"/><path d="M512.00,1029.10L510.08,1028.40L508.17,1027.70L506.25,1027.00L504.33,1026.31L502.41,1025.62L500.49,1024.94L498.56,1024.26L496.64,1023.58L494.71,1022.91L492.78,1022.24L490.86,1021.57L488.93,1020.91L486.99,1020.26L485.06,1019.60L483.13,1018.95L481.19,1018.31L479.26,1017.67L477.32,1017.03L475.38,1016.40L473.44,1015.77L471.50,1015.15L469.55,1014.53L467.61,1013.91L465.66,1013.30L463.71,1012.69L461.77,1012.09L459.82,1011.49L457.86,1010.90L455.91,1010.30L453.96,1009.72L452.00,1009.14L450.05,1008.56L448.09,1007.98L446.13,1007.41L444.17,1006.85L442.21,1006.29L440.25,1005.73L438.28,1005.18L436.32,1004.63L434.35,1004.09L432.39,1003.55L430.42,1003.02L428.45,1002.49L426.48,1001.96L424.50,1001.44L422.53,1000.92L420.55,1000.41L418.58,999.90L416.60,999.40"/><path d="M510.60,1175.70L510.15,1173.76L509.69,1171.82L509.22,1169.88L508.75,1167.95L508.26,1166.02L507.75,1164.08L507.24,1162.16L506.72,1160.23L506.19,1158.31L505.65,1156.38L505.10,1154.46L504.54,1152.55L503.97,1150.63L503.38,1148.72L502.79,1146.81L502.19,1144.90L501.58,1143.00L500.95,1141.10L500.32,1139.20L499.68,1137.31L499.02,1135.41L498.36,1133.52L497.69,1131.64L497.01,1129.75L496.31,1127.88L495.61,1126.00L494.90,1124.13L494.18,1122.26L493.44,1120.39L492.70,1118.53L491.95,1116.67L491.19,1114.81L490.42,1112.96L489.64,1111.12L488.85,1109.27L488.05,1107.43L487.24,1105.60L486.42,1103.77L485.59,1101.94L484.75,1100.12L483.91,1098.30L483.05,1096.48L482.18,1094.67L481.31,1092.87L480.42,1091.07L479.53,1089.27L478.62,1087.48L477.71,1085.69L476.79,1083.91L475.85,1082.13L474.91,1080.36L473.96,1078.59L473.00,1076.83L472.03,1075.07L471.06,1073.32L470.07,1071.57L469.07,1069.83L468.07,1068.10L467.05,1066.36L466.03,1064.64L465.00,1062.92L463.96,1061.21L462.91,1059.50L461.85,1057.79L460.78,1056.10L459.70,1054.41L458.61,1052.72L457.52,1051.04L456.42,1049.37L455.30,1047.70L454.18,1046.04L453.05,1044.39L451.91,1042.74L450.77,1041.10L449.61,1039.46L448.45,1037.83L447.27,1036.21L446.09,1034.59L444.90,1032.98L443.70,1031.38L442.50,1029.78L441.28,1028.20L440.06,1026.61L438.82,1025.04L437.58,1023.47L436.33,1021.91L435.07,1020.36L433.81,1018.81L432.53,1017.27L431.25,1015.74L429.96,1014.22L428.66,1012.70L427.35,1011.19L426.04,1009.69L424.71,1008.20L423.38,1006.71L422.04,1005.23L420.69,1003.76L419.34,1002.30L417.97,1000.85L416.60,999.40"/><path d="M427.10,1176.50L427.94,1174.63L428.75,1172.75L429.54,1170.87L430.30,1168.98L431.03,1167.08L431.73,1165.18L432.41,1163.27L433.06,1161.36L433.69,1159.44L434.29,1157.52L434.86,1155.59L435.41,1153.66L435.93,1151.73L436.42,1149.79L436.89,1147.84L437.34,1145.89L437.76,1143.94L438.16,1141.99L438.53,1140.03L438.88,1138.06L439.21,1136.10L439.51,1134.13L439.79,1132.16L440.04,1130.18L440.28,1128.21L440.49,1126.23L440.68,1124.24L440.84,1122.26L440.99,1120.27L441.11,1118.28L441.21,1116.29L441.29,1114.30L441.35,1112.31L441.39,1110.31L441.41,1108.32L441.40,1106.32L441.38,1104.32L441.34,1102.32L441.28,1100.33L441.19,1098.33L441.09,1096.33L440.97,1094.33L440.84,1092.33L440.68,1090.33L440.50,1088.33L440.31,1086.33L440.10,1084.33L439.87,1082.34L439.63,1080.34L439.36,1078.35L439.08,1076.35L438.79,1074.36L438.47,1072.37L438.14,1070.38L437.80,1068.40L437.44,1066.41L437.06,1064.43L436.67,1062.45L436.26,1060.47L435.84,1058.50L435.40,1056.52L434.95,1054.55L434.49,1052.59L434.01,1050.62L433.52,1048.66L433.01,1046.71L432.49,1044.76L431.96,1042.81L431.41,1040.86L430.85,1038.92L430.28,1036.99L429.70,1035.05L429.10,1033.13L428.50,1031.21L427.88,1029.29L427.25,1027.38L426.61,1025.47L425.96,1023.57L425.29,1021.67L424.62,1019.78L423.94,1017.90L423.25,1016.02L422.54,1014.14L421.83,1012.28L421.11,1010.42L420.38,1008.56L419.64,1006.72L418.89,1004.88L418.14,1003.04L417.37,1001.22L416.60,999.40"/></g><g><path d="M349.8,870.8L339.4,874.39L340.3,865.24Z" fill="#000"/><path d="M352.5,936.2L341.79,938.75L343.6,929.73Z" fill="#000"/><path d="M350.5,977.8L340.24,981.79L340.8,972.6Z" fill="#000"/><path d="M354.3,1118.3L345.22,1124.52L343.67,1115.45Z" fill="#000"/><path d="M354.3,1058.6L345.51,1065.22L343.55,1056.23Z" fill="#000"/><path d="M354.3,1021.4L344.81,1026.98L343.89,1017.83Z" fill="#000"/><path d="M352,999.9L342.04,1004.58L341.96,995.38Z" fill="#000"/><path d="M249,891.1L254.28,901.37L244.69,901.81Z" fill="#000"/><path d="M234.6,952.3L244.61,958.06L236.79,963.64Z" fill="#000"/><path d="M187.3,981.1L199.03,978.58L197.13,987.99Z" fill="#000"/><path d="M187.3,1027.7L195.6,1019.03L199.3,1027.89Z" fill="#000"/><path d="M208.3,1111.9L207.67,1100.37L216.6,1103.88Z" fill="#000"/><path d="M254,1101L249.15,1090.52L258.75,1090.48Z" fill="#000"/><path d="M437.6,900.6L433.01,890.01L442.61,890.2Z" fill="#000"/><path d="M480.1,918.7L481.69,907.27L489.79,912.42Z" fill="#000"/><path d="M484.4,977L492.98,969.28L495.85,978.44Z" fill="#000"/><path d="M471.4,1015.5L482.87,1014.14L479.93,1023.28Z" fill="#000"/><path d="M481.5,1095.2L490.36,1102.6L481.7,1106.74Z" fill="#000"/><path d="M441.3,1103.1L446.32,1113.5L436.72,1113.7Z" fill="#000"/><circle cx="273.9" cy="1000.5" r="3.1" fill="#00c000"/><circle cx="416.6" cy="999.4" r="3.1" fill="#ff0000"/><text x="239.3" y="989.6" font-family="Liberation Sans" font-size="15.5" fill="#222"><tspan font-size="10.5" dy="-1">+</tspan><tspan dx="0.5" dy="1" font-style="italic">q</tspan></text><text x="447.6" y="1003.6" font-family="Liberation Sans" font-size="15.5" fill="#222"><tspan font-size="11">-</tspan><tspan dx="1" font-style="italic">q</tspan></text></g><g fill="none" stroke="#2a2a2a" stroke-width="1.2"><path d="M823.20,1017.50L821.24,1016.95L819.27,1016.41L817.30,1015.89L815.32,1015.38L813.35,1014.88L811.36,1014.39L809.38,1013.91L807.40,1013.44L805.41,1012.98L803.42,1012.52L801.42,1012.07L799.43,1011.63L797.44,1011.19L795.44,1010.76L793.44,1010.33L791.45,1009.90L789.45,1009.47L787.45,1009.04L785.45,1008.61L783.46,1008.18L781.46,1007.74L779.47,1007.31L777.47,1006.87L775.48,1006.42L773.49,1005.97L771.50,1005.51L769.51,1005.04L767.53,1004.56L765.55,1004.08L763.57,1003.58L761.59,1003.08L759.62,1002.56L757.65,1002.02L755.69,1001.48L753.73,1000.92L751.77,1000.34L749.82,999.75L747.87,999.14L745.93,998.51L743.99,997.86L742.06,997.19L740.14,996.50L738.22,995.79L736.31,995.06L734.40,994.30"/><path d="M823.20,1017.50L821.45,1016.51L819.71,1015.51L817.97,1014.50L816.23,1013.49L814.50,1012.47L812.77,1011.44L811.04,1010.41L809.32,1009.38L807.60,1008.33L805.88,1007.28L804.17,1006.23L802.46,1005.17L800.75,1004.10L799.05,1003.03L797.35,1001.95L795.65,1000.86L793.96,999.77L792.27,998.67L790.58,997.57L788.90,996.46L787.23,995.35L785.55,994.23L783.88,993.10L782.22,991.97L780.55,990.83L778.90,989.69L777.24,988.54L775.59,987.38L773.95,986.22L772.31,985.06L770.67,983.88L769.03,982.71L767.40,981.52L765.78,980.33L764.16,979.14L762.54,977.94L760.93,976.73L759.32,975.52L757.72,974.31L756.12,973.09L754.53,971.86L752.94,970.62L751.35,969.39L749.77,968.14L748.20,966.89L746.63,965.64L745.06,964.38L743.50,963.11L741.94,961.84L740.39,960.57L738.84,959.29L737.30,958.00"/><path d="M823.20,1017.50L822.07,1015.82L820.95,1014.14L819.82,1012.47L818.69,1010.79L817.55,1009.12L816.42,1007.44L815.28,1005.77L814.14,1004.10L813.00,1002.43L811.86,1000.76L810.72,999.10L809.57,997.43L808.42,995.77L807.27,994.11L806.11,992.45L804.95,990.80L803.79,989.14L802.62,987.49L801.46,985.84L800.29,984.20L799.11,982.55L797.93,980.91L796.75,979.28L795.57,977.64L794.38,976.01L793.18,974.38L791.99,972.76L790.79,971.13L789.58,969.52L788.37,967.90L787.16,966.29L785.94,964.68L784.71,963.08L783.49,961.48L782.25,959.88L781.01,958.29L779.77,956.70L778.52,955.11L777.27,953.54L776.01,951.96L774.74,950.39L773.47,948.82L772.20,947.26L770.92,945.70L769.63,944.15L768.33,942.61L767.03,941.06L765.73,939.53L764.42,937.99L763.10,936.47L761.77,934.95L760.44,933.43L759.10,931.92L757.75,930.42L756.40,928.92L755.04,927.43L753.67,925.94L752.30,924.46L750.92,922.99L749.53,921.52L748.13,920.06L746.73,918.60L745.31,917.15L743.89,915.71L742.47,914.27L741.03,912.85L739.58,911.42L738.13,910.01L736.67,908.60L735.20,907.20"/><path d="M823.20,1017.50L822.48,1015.64L821.75,1013.78L821.03,1011.91L820.31,1010.05L819.58,1008.18L818.86,1006.31L818.14,1004.44L817.41,1002.57L816.69,1000.70L815.96,998.83L815.23,996.95L814.51,995.08L813.78,993.20L813.05,991.33L812.32,989.45L811.58,987.58L810.85,985.70L810.11,983.82L809.37,981.95L808.63,980.07L807.88,978.20L807.14,976.32L806.39,974.45L805.64,972.58L804.88,970.70L804.12,968.83L803.36,966.96L802.60,965.09L801.83,963.22L801.06,961.35L800.28,959.49L799.50,957.63L798.72,955.76L797.93,953.90L797.14,952.04L796.34,950.19L795.54,948.33L794.74,946.48L793.92,944.63L793.11,942.78L792.29,940.94L791.46,939.10L790.63,937.26L789.79,935.42L788.95,933.59L788.10,931.76L787.24,929.93L786.38,928.11L785.51,926.29L784.64,924.48L783.76,922.66L782.87,920.86L781.98,919.05L781.08,917.25L780.17,915.46L779.25,913.66L778.33,911.88L777.40,910.09L776.46,908.32L775.51,906.54L774.56,904.77L773.59,903.01L772.62,901.25L771.64,899.50L770.65,897.75L769.66,896.01L768.65,894.27L767.64,892.54L766.61,890.82L765.58,889.10L764.53,887.38L763.48,885.68L762.42,883.98L761.35,882.28L760.27,880.59L759.17,878.91L758.07,877.24L756.96,875.57L755.83,873.91L754.70,872.26L753.56,870.61L752.40,868.97L751.23,867.34L750.05,865.71L748.86,864.10L747.66,862.49L746.45,860.88L745.22,859.29L743.99,857.71L742.74,856.13L741.48,854.56L740.20,853.00"/><path d="M823.20,1017.50L822.83,1015.53L822.46,1013.56L822.08,1011.60L821.70,1009.63L821.31,1007.67L820.92,1005.71L820.52,1003.75L820.11,1001.79L819.70,999.83L819.29,997.87L818.86,995.91L818.44,993.96L818.01,992.00L817.57,990.05L817.13,988.10L816.68,986.15L816.23,984.20L815.77,982.25L815.31,980.30L814.85,978.35L814.38,976.41L813.90,974.46L813.42,972.52L812.94,970.58L812.45,968.63L811.96,966.69L811.46,964.75L810.96,962.82L810.45,960.88L809.94,958.94L809.43,957.01L808.91,955.07L808.38,953.14L807.86,951.21L807.33,949.27L806.79,947.34L806.26,945.41L805.71,943.48L805.17,941.56L804.62,939.63L804.07,937.70L803.51,935.78L802.95,933.85L802.39,931.93L801.82,930.01L801.25,928.09L800.68,926.17L800.10,924.25L799.52,922.33L798.94,920.41L798.36,918.49L797.77,916.58L797.18,914.66L796.58,912.75L795.99,910.83L795.39,908.92L794.78,907.01L794.18,905.09L793.57,903.18L792.96,901.27L792.35,899.36L791.73,897.46L791.12,895.55L790.50,893.64L789.88,891.73L789.25,889.83L788.63,887.92L788.00,886.02L787.37,884.12L786.73,882.21L786.10,880.31L785.46,878.41L784.83,876.51L784.19,874.61L783.55,872.71L782.90,870.81L782.26,868.91L781.61,867.02L780.97,865.12L780.32,863.22L779.67,861.33L779.02,859.43L778.36,857.54L777.71,855.64L777.06,853.75L776.40,851.86L775.74,849.96L775.09,848.07L774.43,846.18L773.77,844.29L773.11,842.40L772.44,840.51L771.78,838.62L771.12,836.73L770.46,834.85L769.79,832.96L769.13,831.07L768.47,829.19L767.80,827.30"/><path d="M823.20,1017.50L823.27,1015.51L823.33,1013.52L823.39,1011.53L823.44,1009.54L823.48,1007.54L823.52,1005.55L823.56,1003.55L823.59,1001.56L823.61,999.56L823.63,997.56L823.64,995.57L823.65,993.57L823.65,991.57L823.64,989.57L823.63,987.57L823.62,985.57L823.60,983.57L823.57,981.57L823.54,979.57L823.50,977.57L823.45,975.57L823.40,973.57L823.35,971.57L823.29,969.56L823.22,967.56L823.15,965.56L823.07,963.56L822.98,961.56L822.89,959.55L822.80,957.55L822.70,955.55L822.59,953.55L822.48,951.55L822.36,949.55L822.23,947.54L822.10,945.54L821.97,943.54L821.82,941.54L821.68,939.54L821.52,937.54L821.36,935.54L821.20,933.55L821.03,931.55L820.85,929.55L820.67,927.55L820.48,925.56L820.28,923.56L820.08,921.57L819.88,919.57L819.66,917.58L819.45,915.59L819.22,913.60L818.99,911.60L818.76,909.61L818.51,907.63L818.27,905.64L818.01,903.65L817.75,901.66L817.49,899.68L817.22,897.70L816.94,895.71L816.66,893.73L816.37,891.75L816.07,889.77L815.77,887.79L815.46,885.82L815.15,883.84L814.83,881.87L814.50,879.90L814.17,877.92L813.83,875.95L813.49,873.99L813.14,872.02L812.78,870.06L812.42,868.09L812.05,866.13L811.68,864.17L811.30,862.21L810.91,860.26L810.52,858.30L810.12,856.35L809.72,854.40L809.31,852.45L808.89,850.50L808.47,848.56L808.04,846.61L807.60,844.67L807.16,842.73L806.71,840.80L806.26,838.86L805.80,836.93L805.33,835.00L804.86,833.07L804.38,831.14L803.89,829.22L803.40,827.30"/><path d="M823.20,1017.50L823.91,1015.60L824.61,1013.70L825.30,1011.80L825.99,1009.90L826.66,1008.00L827.33,1006.09L827.99,1004.18L828.65,1002.27L829.29,1000.35L829.93,998.44L830.56,996.52L831.18,994.60L831.80,992.68L832.40,990.76L833.00,988.83L833.59,986.90L834.18,984.97L834.75,983.04L835.32,981.11L835.88,979.17L836.43,977.24L836.98,975.30L837.51,973.36L838.04,971.41L838.56,969.47L839.08,967.52L839.58,965.57L840.08,963.62L840.57,961.67L841.06,959.72L841.53,957.76L842.00,955.81L842.46,953.85L842.91,951.89L843.36,949.93L843.80,947.97L844.23,946.00L844.65,944.03L845.07,942.07L845.48,940.10L845.88,938.13L846.27,936.15L846.66,934.18L847.04,932.21L847.41,930.23L847.77,928.25L848.13,926.27L848.48,924.29L848.82,922.31L849.16,920.32L849.48,918.34L849.80,916.35L850.12,914.36L850.42,912.38L850.72,910.39L851.02,908.39L851.30,906.40L851.58,904.41L851.85,902.41L852.11,900.42L852.37,898.42L852.62,896.42L852.86,894.42L853.09,892.42L853.32,890.42L853.54,888.42L853.76,886.41L853.96,884.41L854.16,882.40L854.36,880.39L854.54,878.39L854.72,876.38L854.90,874.37L855.06,872.36L855.22,870.35L855.37,868.33L855.52,866.32L855.65,864.31L855.79,862.29L855.91,860.27L856.03,858.26L856.14,856.24L856.24,854.22L856.34,852.20L856.43,850.18L856.51,848.16L856.59,846.14L856.66,844.12L856.73,842.10L856.78,840.08L856.83,838.05L856.88,836.03L856.91,834.00L856.95,831.98L856.97,829.95L856.99,827.93L857.00,825.90"/><path d="M823.20,1017.50L824.32,1015.81L825.45,1014.13L826.56,1012.43L827.67,1010.74L828.77,1009.04L829.87,1007.34L830.96,1005.63L832.04,1003.92L833.12,1002.21L834.18,1000.49L835.24,998.77L836.30,997.04L837.34,995.32L838.38,993.58L839.41,991.85L840.43,990.11L841.44,988.36L842.44,986.62L843.44,984.86L844.42,983.11L845.40,981.35L846.36,979.58L847.32,977.82L848.27,976.04L849.20,974.27L850.13,972.49L851.04,970.70L851.95,968.91L852.84,967.12L853.73,965.32L854.60,963.52L855.46,961.71L856.31,959.90L857.15,958.08L857.98,956.26L858.79,954.44L859.59,952.61L860.38,950.77L861.16,948.93L861.92,947.09L862.68,945.24L863.41,943.39L864.14,941.53L864.85,939.67L865.55,937.80L866.23,935.93L866.90,934.05L867.56,932.16L868.20,930.28L868.83,928.38L869.44,926.49L870.04,924.58L870.62,922.67L871.19,920.76L871.74,918.84L872.28,916.92L872.80,914.99L873.31,913.06L873.80,911.12L874.28,909.18L874.75,907.23L875.21,905.28L875.65,903.33L876.07,901.37L876.49,899.41L876.89,897.44L877.28,895.47L877.66,893.50L878.02,891.53L878.38,889.55L878.72,887.57L879.05,885.58L879.37,883.59L879.68,881.60L879.98,879.61L880.26,877.62L880.54,875.62L880.81,873.62L881.06,871.62L881.31,869.61L881.55,867.61L881.78,865.60L881.99,863.59L882.20,861.58L882.41,859.57L882.60,857.56L882.78,855.54L882.96,853.53L883.13,851.51L883.29,849.49L883.44,847.48L883.59,845.46L883.72,843.44L883.85,841.42L883.98,839.41L884.10,837.39L884.21,835.37L884.32,833.35L884.42,831.33L884.51,829.32L884.60,827.30"/><path d="M823.20,1017.50L824.75,1016.25L826.31,1015.00L827.88,1013.76L829.47,1012.53L831.06,1011.30L832.66,1010.08L834.26,1008.85L835.87,1007.63L837.48,1006.41L839.09,1005.18L840.70,1003.95L842.31,1002.72L843.91,1001.48L845.50,1000.23L847.09,998.98L848.67,997.72L850.23,996.45L851.79,995.16L853.33,993.86L854.85,992.55L856.36,991.23L857.85,989.88L859.32,988.52L860.76,987.14L862.18,985.74L863.58,984.32L864.95,982.88L866.29,981.41L867.61,979.93L868.91,978.42L870.17,976.89L871.42,975.35L872.63,973.78L873.82,972.20L874.99,970.60L876.13,968.98L877.25,967.34L878.34,965.69L879.41,964.02L880.46,962.34L881.48,960.63L882.48,958.92L883.45,957.19L884.40,955.44L885.32,953.68L886.23,951.91L887.10,950.12L887.96,948.32L888.79,946.51L889.60,944.69L890.39,942.86L891.16,941.01L891.90,939.16L892.62,937.29L893.32,935.42L893.99,933.53L894.64,931.64L895.28,929.74L895.89,927.83L896.48,925.91L897.06,923.99L897.61,922.06L898.15,920.12L898.67,918.18L899.17,916.22L899.66,914.27L900.13,912.30L900.59,910.33L901.03,908.36L901.46,906.38L901.87,904.40L902.28,902.41L902.67,900.42L903.05,898.43L903.42,896.43L903.78,894.43L904.14,892.43L904.48,890.42L904.82,888.42L905.14,886.41L905.47,884.40L905.78,882.39L906.09,880.37L906.40,878.36L906.70,876.35L907.00,874.34L907.30,872.32L907.59,870.31L907.88,868.30L908.18,866.29L908.47,864.29L908.76,862.28L909.05,860.28L909.35,858.28L909.65,856.28L909.95,854.29L910.25,852.30L910.56,850.31L910.87,848.33L911.19,846.35L911.51,844.38L911.84,842.41L912.18,840.45L912.53,838.49L912.88,836.54L913.25,834.59L913.62,832.66L914.01,830.72L914.40,828.80"/><path d="M823.20,1017.50L821.20,1017.88L819.20,1018.28L817.20,1018.68L815.21,1019.10L813.22,1019.54L811.23,1019.98L809.25,1020.43L807.27,1020.90L805.29,1021.37L803.31,1021.85L801.34,1022.34L799.36,1022.84L797.39,1023.34L795.42,1023.86L793.46,1024.37L791.49,1024.90L789.53,1025.42L787.56,1025.96L785.60,1026.49L783.64,1027.03L781.68,1027.57L779.71,1028.11L777.75,1028.66L775.79,1029.20L773.83,1029.75L771.87,1030.30L769.91,1030.84L767.95,1031.38L765.99,1031.92L764.03,1032.46L762.06,1032.99L760.10,1033.52L758.13,1034.05L756.17,1034.57L754.20,1035.09L752.23,1035.59L750.26,1036.10L748.28,1036.59L746.31,1037.08L744.33,1037.56L742.35,1038.03L740.37,1038.49L738.38,1038.93L736.39,1039.37L734.40,1039.80"/><path d="M823.20,1017.50L821.34,1018.30L819.50,1019.13L817.68,1019.99L815.87,1020.87L814.08,1021.77L812.31,1022.71L810.55,1023.66L808.81,1024.64L807.08,1025.64L805.37,1026.66L803.67,1027.70L801.98,1028.76L800.31,1029.84L798.65,1030.94L797.00,1032.06L795.36,1033.19L793.73,1034.33L792.11,1035.50L790.50,1036.67L788.90,1037.86L787.31,1039.06L785.73,1040.28L784.15,1041.50L782.58,1042.73L781.01,1043.98L779.45,1045.23L777.90,1046.49L776.35,1047.75L774.81,1049.02L773.26,1050.30L771.72,1051.58L770.19,1052.87L768.65,1054.15L767.12,1055.44L765.59,1056.73L764.05,1058.02L762.52,1059.32L760.99,1060.60L759.45,1061.89L757.92,1063.18L756.38,1064.46L754.83,1065.73L753.29,1067.00L751.74,1068.27L750.18,1069.52L748.62,1070.77L747.06,1072.02L745.49,1073.25L743.91,1074.47L742.32,1075.68L740.73,1076.88L739.13,1078.07L737.52,1079.24L735.90,1080.40"/><path d="M823.20,1017.50L821.97,1019.09L820.76,1020.68L819.54,1022.28L818.33,1023.88L817.13,1025.48L815.93,1027.09L814.73,1028.70L813.54,1030.31L812.35,1031.93L811.17,1033.55L809.99,1035.17L808.81,1036.79L807.64,1038.41L806.46,1040.04L805.29,1041.67L804.12,1043.30L802.96,1044.93L801.79,1046.56L800.63,1048.19L799.47,1049.83L798.30,1051.46L797.14,1053.09L795.98,1054.73L794.82,1056.36L793.66,1058.00L792.50,1059.63L791.34,1061.26L790.17,1062.90L789.01,1064.53L787.84,1066.16L786.67,1067.78L785.51,1069.41L784.33,1071.04L783.16,1072.66L781.98,1074.28L780.81,1075.90L779.62,1077.52L778.44,1079.13L777.25,1080.74L776.06,1082.35L774.86,1083.96L773.66,1085.56L772.45,1087.16L771.24,1088.75L770.03,1090.34L768.81,1091.93L767.58,1093.51L766.35,1095.09L765.11,1096.66L763.87,1098.23L762.62,1099.79L761.36,1101.35L760.09,1102.90L758.82,1104.45L757.54,1105.99L756.26,1107.53L754.96,1109.06L753.66,1110.58L752.35,1112.10L751.03,1113.61L749.70,1115.11L748.36,1116.61L747.01,1118.09L745.66,1119.58L744.29,1121.05L742.91,1122.52L741.53,1123.97L740.13,1125.42L738.72,1126.87L737.30,1128.30"/><path d="M823.20,1017.50L822.66,1019.45L822.11,1021.39L821.54,1023.33L820.97,1025.27L820.38,1027.20L819.78,1029.12L819.17,1031.04L818.55,1032.95L817.93,1034.86L817.29,1036.77L816.64,1038.67L815.98,1040.57L815.31,1042.46L814.63,1044.34L813.94,1046.23L813.24,1048.11L812.53,1049.98L811.82,1051.85L811.09,1053.72L810.36,1055.59L809.62,1057.45L808.87,1059.30L808.11,1061.16L807.35,1063.01L806.57,1064.85L805.79,1066.70L805.00,1068.54L804.21,1070.38L803.41,1072.21L802.60,1074.05L801.79,1075.88L800.97,1077.71L800.15,1079.53L799.32,1081.36L798.49,1083.19L797.66,1085.01L796.83,1086.83L796.00,1088.66L795.16,1090.48L794.33,1092.30L793.49,1094.13L792.66,1095.95L791.83,1097.78L791.00,1099.60L790.18,1101.43L789.35,1103.26L788.54,1105.09L787.72,1106.92L786.91,1108.76L786.11,1110.60L785.30,1112.43L784.50,1114.27L783.71,1116.12L782.91,1117.96L782.12,1119.80L781.33,1121.65L780.55,1123.49L779.76,1125.34L778.98,1127.18L778.19,1129.03L777.41,1130.88L776.62,1132.72L775.84,1134.57L775.06,1136.42L774.27,1138.26L773.49,1140.11L772.70,1141.96L771.91,1143.80L771.12,1145.64L770.33,1147.49L769.53,1149.33L768.74,1151.17L767.93,1153.01L767.13,1154.85L766.32,1156.68L765.51,1158.52L764.69,1160.35L763.87,1162.18L763.04,1164.01L762.21,1165.83L761.37,1167.66L760.53,1169.48L759.68,1171.29L758.83,1173.11L757.96,1174.92L757.09,1176.73L756.21,1178.53L755.33,1180.34L754.44,1182.13L753.53,1183.93L752.62,1185.72L751.71,1187.50L750.78,1189.29L749.84,1191.07L748.89,1192.84L747.93,1194.61L746.96,1196.37L745.98,1198.13L744.99,1199.89L743.99,1201.63L742.98,1203.38L741.95,1205.12L740.91,1206.85L739.86,1208.58L738.80,1210.30"/><path d="M823.20,1017.50L822.70,1019.45L822.21,1021.41L821.71,1023.36L821.22,1025.31L820.73,1027.27L820.25,1029.22L819.76,1031.18L819.28,1033.14L818.80,1035.10L818.32,1037.05L817.84,1039.01L817.37,1040.97L816.90,1042.93L816.43,1044.89L815.96,1046.85L815.49,1048.81L815.02,1050.77L814.56,1052.73L814.09,1054.69L813.63,1056.66L813.17,1058.62L812.71,1060.58L812.25,1062.54L811.79,1064.51L811.34,1066.47L810.88,1068.43L810.43,1070.40L809.97,1072.36L809.52,1074.33L809.07,1076.29L808.62,1078.26L808.17,1080.22L807.72,1082.19L807.27,1084.15L806.82,1086.12L806.37,1088.08L805.92,1090.05L805.47,1092.02L805.02,1093.98L804.58,1095.95L804.13,1097.91L803.68,1099.88L803.23,1101.85L802.78,1103.81L802.33,1105.78L801.89,1107.75L801.44,1109.71L800.99,1111.68L800.54,1113.64L800.09,1115.61L799.64,1117.57L799.19,1119.54L798.74,1121.51L798.28,1123.47L797.83,1125.44L797.38,1127.40L796.92,1129.37L796.46,1131.33L796.01,1133.30L795.55,1135.26L795.09,1137.22L794.63,1139.19L794.17,1141.15L793.70,1143.11L793.24,1145.08L792.77,1147.04L792.31,1149.00L791.84,1150.96L791.37,1152.92L790.90,1154.88L790.42,1156.85L789.95,1158.81L789.47,1160.77L788.99,1162.72L788.51,1164.68L788.02,1166.64L787.54,1168.60L787.05,1170.56L786.56,1172.51L786.07,1174.47L785.57,1176.43L785.08,1178.38L784.58,1180.34L784.08,1182.29L783.57,1184.24L783.07,1186.19L782.56,1188.15L782.04,1190.10L781.53,1192.05L781.01,1194.00L780.49,1195.95L779.96,1197.90L779.44,1199.85L778.91,1201.79L778.37,1203.74L777.83,1205.68L777.29,1207.63L776.75,1209.57L776.20,1211.52L775.65,1213.46L775.10,1215.40"/><path d="M823.20,1017.50L823.41,1019.50L823.60,1021.51L823.78,1023.51L823.96,1025.51L824.11,1027.52L824.26,1029.52L824.40,1031.52L824.53,1033.52L824.64,1035.53L824.75,1037.53L824.84,1039.53L824.93,1041.53L825.00,1043.53L825.06,1045.53L825.12,1047.53L825.16,1049.54L825.20,1051.54L825.22,1053.54L825.24,1055.54L825.25,1057.54L825.25,1059.54L825.24,1061.54L825.22,1063.54L825.19,1065.54L825.16,1067.54L825.11,1069.53L825.06,1071.53L825.00,1073.53L824.94,1075.53L824.86,1077.53L824.78,1079.53L824.70,1081.53L824.60,1083.52L824.50,1085.52L824.39,1087.52L824.28,1089.52L824.15,1091.51L824.03,1093.51L823.89,1095.51L823.75,1097.50L823.61,1099.50L823.46,1101.50L823.30,1103.49L823.14,1105.49L822.98,1107.49L822.81,1109.48L822.63,1111.48L822.45,1113.47L822.27,1115.47L822.08,1117.46L821.88,1119.46L821.69,1121.45L821.49,1123.45L821.28,1125.44L821.08,1127.44L820.87,1129.43L820.65,1131.42L820.44,1133.42L820.22,1135.41L819.99,1137.40L819.77,1139.40L819.54,1141.39L819.31,1143.38L819.08,1145.38L818.85,1147.37L818.62,1149.36L818.38,1151.35L818.14,1153.35L817.90,1155.34L817.66,1157.33L817.42,1159.32L817.18,1161.31L816.94,1163.30L816.70,1165.30L816.46,1167.29L816.21,1169.28L815.97,1171.27L815.73,1173.26L815.49,1175.25L815.25,1177.24L815.01,1179.23L814.77,1181.22L814.53,1183.21L814.29,1185.20L814.06,1187.19L813.82,1189.18L813.59,1191.17L813.36,1193.16L813.13,1195.15L812.90,1197.13L812.68,1199.12L812.46,1201.11L812.24,1203.10L812.02,1205.09L811.81,1207.08L811.60,1209.06L811.39,1211.05L811.19,1213.04L810.99,1215.03L810.79,1217.01L810.60,1219.00"/><path d="M823.20,1017.50L824.16,1019.29L825.11,1021.09L826.03,1022.89L826.93,1024.71L827.82,1026.52L828.68,1028.34L829.53,1030.17L830.35,1032.01L831.16,1033.84L831.95,1035.69L832.72,1037.54L833.48,1039.39L834.21,1041.26L834.93,1043.12L835.63,1044.99L836.31,1046.87L836.98,1048.75L837.63,1050.63L838.27,1052.52L838.88,1054.42L839.49,1056.32L840.07,1058.22L840.64,1060.13L841.20,1062.04L841.74,1063.96L842.27,1065.88L842.78,1067.80L843.28,1069.73L843.76,1071.66L844.23,1073.60L844.69,1075.53L845.13,1077.48L845.56,1079.42L845.98,1081.37L846.38,1083.33L846.78,1085.28L847.16,1087.24L847.53,1089.20L847.88,1091.17L848.23,1093.13L848.56,1095.10L848.89,1097.08L849.20,1099.05L849.50,1101.03L849.80,1103.01L850.08,1104.99L850.35,1106.98L850.62,1108.97L850.87,1110.95L851.12,1112.95L851.36,1114.94L851.58,1116.93L851.80,1118.93L852.02,1120.93L852.22,1122.92L852.42,1124.93L852.61,1126.93L852.79,1128.93L852.96,1130.93L853.13,1132.94L853.30,1134.95L853.45,1136.95L853.60,1138.96L853.75,1140.97L853.89,1142.98L854.02,1144.99L854.15,1147.00L854.28,1149.01L854.40,1151.02L854.51,1153.03L854.62,1155.04L854.73,1157.05L854.84,1159.06L854.94,1161.07L855.04,1163.08L855.13,1165.09L855.23,1167.10L855.32,1169.11L855.41,1171.12L855.49,1173.12L855.58,1175.13L855.66,1177.13L855.74,1179.14L855.82,1181.14L855.91,1183.14L855.99,1185.15L856.07,1187.14L856.15,1189.14L856.23,1191.14L856.31,1193.13L856.39,1195.13L856.47,1197.12L856.56,1199.11L856.64,1201.10L856.73,1203.08L856.82,1205.06L856.91,1207.04L857.00,1209.02L857.10,1211.00"/><path d="M823.20,1017.50L824.62,1018.98L826.01,1020.48L827.38,1021.99L828.73,1023.51L830.05,1025.05L831.35,1026.60L832.62,1028.16L833.87,1029.74L835.10,1031.33L836.30,1032.93L837.48,1034.54L838.64,1036.17L839.78,1037.81L840.89,1039.46L841.99,1041.12L843.06,1042.79L844.11,1044.47L845.14,1046.17L846.15,1047.87L847.14,1049.59L848.11,1051.31L849.06,1053.05L849.99,1054.80L850.90,1056.55L851.79,1058.32L852.67,1060.10L853.52,1061.88L854.36,1063.68L855.18,1065.48L855.98,1067.29L856.76,1069.11L857.53,1070.94L858.28,1072.78L859.02,1074.62L859.73,1076.47L860.43,1078.33L861.12,1080.20L861.79,1082.08L862.44,1083.96L863.08,1085.85L863.71,1087.74L864.32,1089.64L864.92,1091.55L865.50,1093.46L866.07,1095.38L866.62,1097.31L867.16,1099.24L867.69,1101.18L868.21,1103.12L868.71,1105.07L869.21,1107.02L869.69,1108.97L870.15,1110.93L870.61,1112.90L871.06,1114.87L871.49,1116.84L871.92,1118.81L872.33,1120.79L872.74,1122.78L873.13,1124.76L873.52,1126.75L873.89,1128.74L874.26,1130.73L874.62,1132.73L874.97,1134.73L875.31,1136.73L875.64,1138.73L875.97,1140.73L876.29,1142.74L876.60,1144.74L876.90,1146.75L877.20,1148.76L877.49,1150.77L877.78,1152.78L878.06,1154.78L878.33,1156.79L878.60,1158.80L878.86,1160.81L879.12,1162.82L879.38,1164.83L879.63,1166.83L879.87,1168.84L880.11,1170.84L880.35,1172.84L880.59,1174.85L880.82,1176.84L881.05,1178.84L881.28,1180.84L881.50,1182.83L881.73,1184.82L881.95,1186.81L882.17,1188.79L882.39,1190.77L882.61,1192.75L882.82,1194.72L883.04,1196.69L883.26,1198.66L883.48,1200.62L883.69,1202.58L883.91,1204.53L884.13,1206.48L884.35,1208.43L884.58,1210.37L884.80,1212.30"/><path d="M823.20,1017.50L825.16,1018.49L827.08,1019.51L828.97,1020.56L830.84,1021.63L832.67,1022.72L834.46,1023.84L836.23,1024.98L837.97,1026.14L839.67,1027.33L841.35,1028.54L843.00,1029.77L844.62,1031.03L846.20,1032.30L847.76,1033.60L849.29,1034.92L850.80,1036.26L852.27,1037.62L853.72,1039.00L855.14,1040.40L856.53,1041.82L857.90,1043.26L859.23,1044.72L860.55,1046.20L861.83,1047.69L863.10,1049.20L864.33,1050.73L865.54,1052.28L866.73,1053.85L867.89,1055.43L869.03,1057.03L870.15,1058.64L871.24,1060.27L872.30,1061.92L873.35,1063.58L874.37,1065.26L875.37,1066.95L876.35,1068.65L877.31,1070.37L878.24,1072.10L879.16,1073.85L880.05,1075.61L880.92,1077.38L881.77,1079.16L882.61,1080.96L883.42,1082.76L884.21,1084.58L884.99,1086.41L885.74,1088.25L886.48,1090.10L887.20,1091.96L887.90,1093.83L888.59,1095.71L889.26,1097.60L889.91,1099.50L890.54,1101.41L891.16,1103.32L891.76,1105.24L892.35,1107.17L892.92,1109.11L893.48,1111.06L894.03,1113.01L894.56,1114.97L895.08,1116.93L895.59,1118.90L896.08,1120.88L896.56,1122.86L897.03,1124.84L897.49,1126.83L897.94,1128.83L898.38,1130.82L898.81,1132.83L899.23,1134.83L899.64,1136.84L900.05,1138.85L900.44,1140.86L900.83,1142.88L901.21,1144.90L901.58,1146.92L901.95,1148.94L902.31,1150.96L902.66,1152.98L903.01,1155.00L903.36,1157.02L903.70,1159.05L904.03,1161.07L904.36,1163.09L904.69,1165.11L905.02,1167.12L905.34,1169.14L905.66,1171.15L905.98,1173.16L906.30,1175.17L906.62,1177.18L906.94,1179.18L907.26,1181.18L907.57,1183.17L907.89,1185.16L908.21,1187.15L908.54,1189.13L908.86,1191.10L909.19,1193.07L909.51,1195.04L909.85,1196.99L910.18,1198.94L910.52,1200.89L910.87,1202.83L911.22,1204.76L911.57,1206.68L911.93,1208.59L912.30,1210.50"/><path d="M968.90,1016.80L967.08,1015.65L965.30,1014.46L963.56,1013.23L961.87,1011.98L960.22,1010.68L958.62,1009.36L957.06,1008.01L955.55,1006.62L954.08,1005.21L952.66,1003.76L951.29,1002.29L949.97,1000.79L948.69,999.26L947.46,997.70L946.27,996.12L945.14,994.51L944.06,992.88L943.02,991.22L942.03,989.54L941.10,987.84L940.21,986.12L939.37,984.37L938.58,982.60L937.85,980.82L937.15,979.01L936.51,977.19L935.91,975.35L935.35,973.50L934.84,971.63L934.37,969.74L933.94,967.84L933.55,965.93L933.20,964.01L932.89,962.08L932.62,960.13L932.38,958.18L932.17,956.22L932.00,954.25L931.87,952.27L931.76,950.29L931.69,948.31L931.64,946.32L931.63,944.32L931.64,942.33L931.68,940.33L931.75,938.33L931.84,936.34L931.95,934.34L932.09,932.35L932.25,930.35L932.43,928.36L932.63,926.37L932.86,924.37L933.10,922.38L933.37,920.39L933.65,918.40L933.96,916.42L934.28,914.43L934.61,912.45L934.97,910.46L935.34,908.48L935.73,906.50L936.13,904.52L936.54,902.54L936.97,900.56L937.41,898.59L937.87,896.61L938.33,894.64L938.81,892.67L939.30,890.70L939.80,888.73L940.31,886.77L940.83,884.80L941.35,882.84L941.88,880.88L942.42,878.92L942.97,876.97L943.52,875.01L944.08,873.06L944.64,871.11L945.21,869.16L945.78,867.22L946.35,865.27L946.93,863.33L947.51,861.39L948.08,859.46L948.66,857.52L949.24,855.59L949.82,853.66L950.39,851.74L950.97,849.81L951.54,847.89L952.11,845.97L952.67,844.05L953.23,842.14L953.79,840.23L954.34,838.32L954.88,836.41L955.42,834.51L955.95,832.61L956.47,830.72L956.98,828.82L957.49,826.93L957.98,825.04L958.47,823.16L958.94,821.28L959.40,819.40"/><path d="M968.90,1016.80L968.22,1014.83L967.58,1012.86L966.96,1010.88L966.38,1008.91L965.83,1006.94L965.31,1004.96L964.83,1002.99L964.37,1001.02L963.94,999.04L963.54,997.07L963.17,995.09L962.84,993.12L962.52,991.14L962.24,989.17L961.99,987.20L961.76,985.22L961.56,983.25L961.39,981.27L961.24,979.30L961.12,977.33L961.03,975.36L960.96,973.39L960.91,971.41L960.89,969.44L960.90,967.48L960.93,965.51L960.98,963.54L961.06,961.57L961.16,959.61L961.28,957.64L961.43,955.68L961.60,953.72L961.79,951.75L962.00,949.79L962.23,947.83L962.48,945.88L962.75,943.92L963.05,941.97L963.36,940.01L963.69,938.06L964.04,936.11L964.41,934.16L964.80,932.22L965.20,930.27L965.62,928.33L966.06,926.39L966.52,924.45L967.00,922.51L967.48,920.58L967.99,918.64L968.51,916.71L969.05,914.78L969.60,912.86L970.16,910.93L970.74,909.01L971.34,907.09L971.94,905.18L972.56,903.26L973.20,901.35L973.84,899.44L974.50,897.54L975.17,895.63L975.85,893.73L976.54,891.84L977.24,889.94L977.95,888.05L978.68,886.16L979.41,884.28L980.15,882.39L980.90,880.52L981.66,878.64L982.42,876.77L983.20,874.90L983.98,873.03L984.77,871.17L985.57,869.31L986.37,867.46L987.18,865.61L987.99,863.76L988.81,861.92L989.64,860.08L990.47,858.24L991.30,856.41L992.14,854.59L992.99,852.76L993.83,850.94L994.68,849.13L995.53,847.32L996.39,845.51L997.24,843.71L998.10,841.91L998.96,840.12L999.82,838.33L1000.68,836.54L1001.54,834.76L1002.40,832.99L1003.26,831.22L1004.12,829.45L1004.98,827.69L1005.84,825.94L1006.69,824.19L1007.55,822.44L1008.40,820.70"/><path d="M968.90,1016.80L969.05,1014.79L969.23,1012.78L969.43,1010.77L969.65,1008.78L969.89,1006.78L970.15,1004.80L970.44,1002.81L970.74,1000.84L971.06,998.87L971.40,996.90L971.77,994.94L972.15,992.98L972.55,991.03L972.97,989.09L973.40,987.15L973.86,985.21L974.34,983.29L974.83,981.36L975.34,979.44L975.87,977.53L976.41,975.62L976.98,973.72L977.56,971.82L978.15,969.93L978.76,968.04L979.39,966.15L980.04,964.28L980.70,962.40L981.38,960.54L982.07,958.67L982.78,956.82L983.50,954.96L984.24,953.12L984.99,951.27L985.76,949.44L986.54,947.60L987.34,945.77L988.14,943.95L988.97,942.13L989.80,940.32L990.65,938.51L991.51,936.71L992.39,934.91L993.27,933.12L994.17,931.33L995.08,929.55L996.00,927.77L996.94,925.99L997.88,924.22L998.84,922.46L999.81,920.70L1000.79,918.94L1001.78,917.19L1002.78,915.45L1003.78,913.71L1004.80,911.97L1005.83,910.24L1006.87,908.51L1007.92,906.79L1008.97,905.08L1010.04,903.36L1011.11,901.66L1012.20,899.95L1013.29,898.25L1014.38,896.56L1015.49,894.87L1016.60,893.18L1017.72,891.50L1018.85,889.83L1019.99,888.16L1021.13,886.49L1022.28,884.83L1023.43,883.17L1024.59,881.52L1025.75,879.87L1026.93,878.22L1028.10,876.58L1029.28,874.95L1030.47,873.32L1031.66,871.69L1032.86,870.07L1034.06,868.45L1035.26,866.84L1036.47,865.23L1037.68,863.63L1038.89,862.02L1040.11,860.43L1041.33,858.84L1042.55,857.25L1043.78,855.67L1045.01,854.09L1046.24,852.51L1047.47,850.94L1048.71,849.38L1049.94,847.82L1051.18,846.26L1052.41,844.70L1053.65,843.16L1054.89,841.61L1056.13,840.07L1057.37,838.53L1058.61,837.00L1059.85,835.47L1061.09,833.95L1062.33,832.43L1063.56,830.91L1064.80,829.40"/><path d="M968.90,1016.80L970.11,1015.18L971.33,1013.57L972.56,1011.97L973.81,1010.38L975.08,1008.81L976.35,1007.25L977.64,1005.70L978.94,1004.15L980.26,1002.62L981.58,1001.11L982.92,999.60L984.27,998.10L985.64,996.61L987.01,995.13L988.40,993.66L989.79,992.21L991.20,990.76L992.61,989.32L994.04,987.89L995.48,986.46L996.92,985.05L998.38,983.65L999.84,982.25L1001.32,980.86L1002.80,979.48L1004.29,978.11L1005.79,976.75L1007.29,975.39L1008.81,974.04L1010.33,972.70L1011.86,971.37L1013.39,970.04L1014.93,968.72L1016.48,967.40L1018.03,966.10L1019.59,964.79L1021.16,963.50L1022.73,962.21L1024.31,960.92L1025.89,959.65L1027.47,958.37L1029.06,957.11L1030.66,955.84L1032.25,954.58L1033.85,953.33L1035.46,952.08L1037.07,950.84L1038.68,949.60L1040.29,948.36L1041.90,947.13L1043.52,945.90L1045.14,944.67L1046.76,943.45L1048.38,942.23L1050.01,941.02L1051.63,939.80L1053.26,938.59L1054.88,937.38L1056.51,936.18L1058.13,934.97L1059.76,933.77L1061.38,932.57L1063.01,931.37L1064.63,930.18L1066.25,928.98L1067.87,927.79L1069.48,926.59L1071.10,925.40"/><path d="M968.90,1016.80L969.61,1018.72L970.35,1020.62L971.10,1022.51L971.88,1024.39L972.68,1026.25L973.50,1028.09L974.34,1029.92L975.21,1031.74L976.09,1033.54L976.99,1035.33L977.91,1037.11L978.85,1038.87L979.81,1040.63L980.78,1042.37L981.78,1044.09L982.79,1045.81L983.82,1047.51L984.86,1049.21L985.92,1050.89L987.00,1052.56L988.09,1054.22L989.19,1055.88L990.31,1057.52L991.44,1059.15L992.59,1060.77L993.75,1062.39L994.93,1063.99L996.11,1065.59L997.31,1067.17L998.52,1068.76L999.74,1070.33L1000.97,1071.89L1002.21,1073.45L1003.47,1075.00L1004.73,1076.55L1006.00,1078.08L1007.28,1079.62L1008.57,1081.14L1009.86,1082.66L1011.17,1084.18L1012.48,1085.69L1013.80,1087.20L1015.12,1088.70L1016.45,1090.19L1017.79,1091.69L1019.13,1093.18L1020.48,1094.66L1021.83,1096.14L1023.18,1097.62L1024.54,1099.10L1025.90,1100.58L1027.27,1102.05L1028.64,1103.52L1030.01,1104.99L1031.38,1106.46L1032.75,1107.93L1034.12,1109.39L1035.50,1110.86L1036.87,1112.32L1038.25,1113.79L1039.62,1115.26L1040.99,1116.72L1042.36,1118.19L1043.73,1119.66L1045.10,1121.13L1046.46,1122.60L1047.82,1124.08L1049.18,1125.55L1050.53,1127.03L1051.88,1128.51L1053.23,1130.00L1054.57,1131.48L1055.90,1132.98L1057.23,1134.47L1058.55,1135.97L1059.87,1137.47L1061.18,1138.98L1062.48,1140.49L1063.77,1142.01L1065.06,1143.54L1066.33,1145.06L1067.60,1146.60"/><path d="M968.90,1016.80L969.15,1018.79L969.42,1020.78L969.70,1022.77L969.99,1024.75L970.30,1026.74L970.62,1028.71L970.96,1030.69L971.31,1032.66L971.67,1034.63L972.05,1036.60L972.44,1038.56L972.84,1040.52L973.26,1042.47L973.70,1044.43L974.14,1046.37L974.60,1048.32L975.07,1050.26L975.56,1052.20L976.05,1054.14L976.56,1056.07L977.09,1058.00L977.62,1059.92L978.17,1061.84L978.74,1063.76L979.31,1065.67L979.90,1067.58L980.50,1069.49L981.11,1071.39L981.73,1073.29L982.37,1075.18L983.01,1077.07L983.67,1078.96L984.35,1080.84L985.03,1082.72L985.72,1084.60L986.43,1086.47L987.15,1088.33L987.88,1090.19L988.62,1092.05L989.37,1093.90L990.14,1095.75L990.91,1097.60L991.70,1099.44L992.50,1101.27L993.31,1103.10L994.12,1104.93L994.95,1106.75L995.79,1108.57L996.65,1110.38L997.51,1112.19L998.38,1114.00L999.26,1115.79L1000.15,1117.59L1001.06,1119.38L1001.97,1121.16L1002.89,1122.94L1003.82,1124.72L1004.77,1126.49L1005.72,1128.25L1006.68,1130.01L1007.65,1131.77L1008.64,1133.52L1009.63,1135.26L1010.63,1137.00L1011.64,1138.73L1012.65,1140.46L1013.68,1142.19L1014.72,1143.90L1015.76,1145.62L1016.82,1147.32L1017.88,1149.03L1018.95,1150.72L1020.04,1152.41L1021.13,1154.10L1022.22,1155.78L1023.33,1157.45L1024.44,1159.12L1025.57,1160.78L1026.70,1162.44L1027.84,1164.09L1028.98,1165.74L1030.14,1167.38L1031.30,1169.01L1032.47,1170.64L1033.65,1172.26L1034.84,1173.88L1036.03,1175.49L1037.23,1177.09L1038.44,1178.69L1039.65,1180.28L1040.88,1181.87L1042.11,1183.45L1043.34,1185.02L1044.59,1186.59L1045.84,1188.15L1047.09,1189.70L1048.36,1191.25L1049.63,1192.79L1050.91,1194.33L1052.19,1195.86L1053.48,1197.38L1054.77,1198.89L1056.08,1200.40L1057.39,1201.90L1058.70,1203.40"/><path d="M968.90,1016.80L968.27,1018.80L967.66,1020.80L967.09,1022.80L966.56,1024.79L966.06,1026.79L965.59,1028.79L965.15,1030.79L964.75,1032.78L964.37,1034.78L964.03,1036.78L963.71,1038.77L963.43,1040.77L963.18,1042.76L962.95,1044.75L962.76,1046.74L962.59,1048.74L962.46,1050.73L962.35,1052.72L962.26,1054.71L962.21,1056.69L962.18,1058.68L962.17,1060.67L962.20,1062.65L962.25,1064.63L962.32,1066.62L962.42,1068.60L962.54,1070.58L962.68,1072.55L962.85,1074.53L963.04,1076.51L963.26,1078.48L963.50,1080.45L963.75,1082.42L964.03,1084.39L964.33,1086.36L964.66,1088.33L965.00,1090.29L965.36,1092.25L965.74,1094.22L966.14,1096.17L966.56,1098.13L967.00,1100.09L967.45,1102.04L967.92,1103.99L968.41,1105.94L968.92,1107.89L969.44,1109.83L969.98,1111.78L970.53,1113.72L971.10,1115.65L971.69,1117.59L972.28,1119.52L972.90,1121.45L973.52,1123.38L974.16,1125.31L974.81,1127.23L975.47,1129.15L976.15,1131.07L976.83,1132.99L977.53,1134.90L978.24,1136.81L978.96,1138.72L979.69,1140.63L980.42,1142.53L981.17,1144.43L981.93,1146.32L982.69,1148.22L983.46,1150.11L984.24,1151.99L985.03,1153.88L985.82,1155.76L986.62,1157.64L987.43,1159.51L988.24,1161.38L989.06,1163.25L989.88,1165.11L990.71,1166.97L991.53,1168.83L992.37,1170.69L993.20,1172.54L994.04,1174.38L994.89,1176.23L995.73,1178.07L996.57,1179.90L997.42,1181.73L998.27,1183.56L999.11,1185.39L999.96,1187.21L1000.81,1189.02L1001.66,1190.84L1002.50,1192.64L1003.34,1194.45L1004.19,1196.25L1005.03,1198.05L1005.86,1199.84L1006.70,1201.63L1007.52,1203.41L1008.35,1205.19L1009.17,1206.96L1009.99,1208.73L1010.80,1210.50"/><path d="M968.90,1016.80L967.12,1017.87L965.36,1018.98L963.62,1020.13L961.90,1021.30L960.22,1022.52L958.57,1023.76L956.94,1025.04L955.36,1026.35L953.81,1027.70L952.30,1029.08L950.83,1030.49L949.41,1031.94L948.03,1033.42L946.70,1034.93L945.41,1036.48L944.19,1038.05L943.01,1039.66L941.90,1041.30L940.84,1042.98L939.84,1044.68L938.89,1046.41L938.00,1048.17L937.16,1049.95L936.38,1051.76L935.64,1053.59L934.96,1055.43L934.32,1057.30L933.74,1059.18L933.20,1061.08L932.70,1062.98L932.25,1064.91L931.84,1066.84L931.47,1068.77L931.15,1070.72L930.86,1072.67L930.61,1074.62L930.40,1076.58L930.22,1078.54L930.09,1080.51L929.98,1082.48L929.91,1084.45L929.88,1086.43L929.88,1088.41L929.90,1090.40L929.96,1092.39L930.05,1094.38L930.17,1096.37L930.32,1098.37L930.49,1100.36L930.69,1102.37L930.92,1104.37L931.17,1106.37L931.44,1108.38L931.74,1110.38L932.06,1112.39L932.40,1114.40L932.76,1116.41L933.14,1118.43L933.54,1120.44L933.95,1122.45L934.39,1124.46L934.84,1126.47L935.30,1128.49L935.78,1130.50L936.27,1132.51L936.78,1134.52L937.29,1136.53L937.82,1138.54L938.36,1140.55L938.90,1142.56L939.46,1144.56L940.02,1146.56L940.59,1148.57L941.16,1150.56L941.74,1152.56L942.32,1154.56L942.91,1156.55L943.50,1158.54L944.09,1160.52L944.68,1162.51L945.26,1164.49L945.85,1166.46L946.44,1168.44L947.02,1170.40L947.60,1172.37L948.17,1174.33L948.74,1176.29L949.30,1178.24L949.86,1180.18L950.40,1182.13L950.94,1184.06L951.47,1186.00L951.98,1187.92L952.49,1189.84L952.98,1191.76L953.46,1193.67L953.92,1195.57L954.37,1197.46L954.81,1199.35L955.22,1201.24L955.62,1203.11L956.00,1204.98L956.36,1206.85L956.70,1208.70"/><line x1="968.9" y1="1016.8" x2="1058.6" y2="1016.8" stroke="#111" stroke-width="2.2"/></g><g><path d="M734.4,994.3L746.21,994.23L743.13,1002.26Z" fill="#000"/><path d="M737.3,958L748.51,961.7L743.03,968.33Z" fill="#000"/><path d="M735.2,907.2L746.1,911.74L740.14,917.93Z" fill="#000"/><path d="M740.2,853L750.45,858.88L743.75,864.27Z" fill="#000"/><path d="M767.8,827.3L775.51,836.25L767.4,839.1Z" fill="#000"/><path d="M803.4,827.3L810.25,836.92L801.91,839.02Z" fill="#000"/><path d="M857,825.9L861.2,836.94L852.6,836.86Z" fill="#000"/><path d="M884.6,827.3L888.38,838.49L879.79,838.09Z" fill="#000"/><path d="M914.4,828.8L916.5,840.42L908.06,838.77Z" fill="#000"/><path d="M734.4,1039.8L744.22,1033.23L746.07,1041.63Z" fill="#000"/><path d="M735.9,1080.4L742.22,1070.42L747.31,1077.35Z" fill="#000"/><path d="M737.3,1128.3L741.91,1117.43L748.06,1123.44Z" fill="#000"/><path d="M738.8,1210.3L740.84,1198.67L748.19,1203.14Z" fill="#000"/><path d="M775.1,1215.4L773.96,1203.64L782.24,1205.99Z" fill="#000"/><path d="M810.6,1219L807.41,1207.63L815.97,1208.48Z" fill="#000"/><path d="M857.1,1211L852.29,1200.21L860.88,1199.81Z" fill="#000"/><path d="M884.8,1212.3L879.28,1201.86L887.82,1200.88Z" fill="#000"/><path d="M912.3,1210.5L906.05,1200.48L914.51,1198.9Z" fill="#000"/><path d="M959.4,819.4L960.86,831.12L952.52,829Z" fill="#000"/><path d="M1008.4,820.7L1007.43,832.47L999.7,828.69Z" fill="#000"/><path d="M1064.8,829.4L1061.18,840.64L1054.52,835.21Z" fill="#000"/><path d="M1071.1,925.4L1064.8,935.39L1059.7,928.47Z" fill="#000"/><path d="M1067.6,1146.6L1057.24,1140.94L1063.82,1135.41Z" fill="#000"/><path d="M1058.7,1203.4L1048.24,1197.91L1054.74,1192.27Z" fill="#000"/><path d="M1010.8,1210.5L1002.28,1202.32L1010.09,1198.71Z" fill="#000"/><path d="M956.7,1208.7L950.34,1198.75L958.78,1197.07Z" fill="#000"/><path d="M1047.9,1016.8L1035.4,1021.8L1035.4,1011.8Z" fill="#000"/><circle cx="823.2" cy="1017.5" r="3" fill="#00c000"/><circle cx="968.9" cy="1016.8" r="3" fill="#00c000"/><text x="844.2" y="1023.9" font-family="Liberation Sans" font-size="17.5" fill="#444" textLength="27.5" lengthAdjust="spacingAndGlyphs">+2<tspan font-style="italic">q</tspan></text><text x="940.5" y="1019.5" font-family="Liberation Sans" font-size="15" fill="#222">+<tspan font-style="italic">q</tspan></text></g><g><rect x="377.6" y="1349.8" width="460.8" height="226.7" fill="none" stroke="#333" stroke-width="1.6"/><line x1="377" y1="1577.9" x2="838.5" y2="1577.9" stroke="#aaa" stroke-width="1.4"/><rect x="412.6" y="1365" width="390.9" height="28.6" fill="#c0c0c0" stroke="#3f3a37" stroke-width="2.3"/><rect x="412.6" y="1533.2" width="390.9" height="29.2" fill="#c0c0c0" stroke="#3f3a37" stroke-width="2.3"/><line x1="435.5" y1="1372" x2="435.5" y2="1386" stroke="#6d6a67" stroke-width="2.2"/><line x1="429.2" y1="1547.1" x2="441.8" y2="1547.1" stroke="#1a1716" stroke-width="2"/><line x1="435.5" y1="1540.6" x2="435.5" y2="1554.8" stroke="#55514f" stroke-width="1.4"/><line x1="484.6" y1="1372" x2="484.6" y2="1386" stroke="#6d6a67" stroke-width="2.2"/><line x1="478.3" y1="1547.1" x2="490.90000000000003" y2="1547.1" stroke="#1a1716" stroke-width="2"/><line x1="484.6" y1="1540.6" x2="484.6" y2="1554.8" stroke="#55514f" stroke-width="1.4"/><line x1="533.8" y1="1372" x2="533.8" y2="1386" stroke="#6d6a67" stroke-width="2.2"/><line x1="527.5" y1="1547.1" x2="540.0999999999999" y2="1547.1" stroke="#1a1716" stroke-width="2"/><line x1="533.8" y1="1540.6" x2="533.8" y2="1554.8" stroke="#55514f" stroke-width="1.4"/><line x1="582.9" y1="1372" x2="582.9" y2="1386" stroke="#6d6a67" stroke-width="2.2"/><line x1="576.6" y1="1547.1" x2="589.1999999999999" y2="1547.1" stroke="#1a1716" stroke-width="2"/><line x1="582.9" y1="1540.6" x2="582.9" y2="1554.8" stroke="#55514f" stroke-width="1.4"/><line x1="632.0" y1="1372" x2="632.0" y2="1386" stroke="#6d6a67" stroke-width="2.2"/><line x1="625.7" y1="1547.1" x2="638.3" y2="1547.1" stroke="#1a1716" stroke-width="2"/><line x1="632.0" y1="1540.6" x2="632.0" y2="1554.8" stroke="#55514f" stroke-width="1.4"/><line x1="681.2" y1="1372" x2="681.2" y2="1386" stroke="#6d6a67" stroke-width="2.2"/><line x1="674.9000000000001" y1="1547.1" x2="687.5" y2="1547.1" stroke="#1a1716" stroke-width="2"/><line x1="681.2" y1="1540.6" x2="681.2" y2="1554.8" stroke="#55514f" stroke-width="1.4"/><line x1="730.3" y1="1372" x2="730.3" y2="1386" stroke="#6d6a67" stroke-width="2.2"/><line x1="724.0" y1="1547.1" x2="736.5999999999999" y2="1547.1" stroke="#1a1716" stroke-width="2"/><line x1="730.3" y1="1540.6" x2="730.3" y2="1554.8" stroke="#55514f" stroke-width="1.4"/><line x1="779.5" y1="1372" x2="779.5" y2="1386" stroke="#6d6a67" stroke-width="2.2"/><line x1="773.2" y1="1547.1" x2="785.8" y2="1547.1" stroke="#1a1716" stroke-width="2"/><line x1="779.5" y1="1540.6" x2="779.5" y2="1554.8" stroke="#55514f" stroke-width="1.4"/><line x1="460.4" y1="1394.5" x2="460.4" y2="1532" stroke="#2a2a2a" stroke-width="1.6"/><line x1="509.4" y1="1394.5" x2="509.4" y2="1532" stroke="#2a2a2a" stroke-width="1.6"/><line x1="558.2" y1="1394.5" x2="558.2" y2="1532" stroke="#2a2a2a" stroke-width="1.6"/><line x1="607.2" y1="1394.5" x2="607.2" y2="1532" stroke="#2a2a2a" stroke-width="1.6"/><line x1="656.2" y1="1394.5" x2="656.2" y2="1532" stroke="#2a2a2a" stroke-width="1.6"/><line x1="705.2" y1="1394.5" x2="705.2" y2="1532" stroke="#2a2a2a" stroke-width="1.6"/><line x1="754.2" y1="1394.5" x2="754.2" y2="1532" stroke="#2a2a2a" stroke-width="1.6"/><path d="M412.3,1393.5 C405,1420 395.2,1450 395.2,1467.8 C395.2,1486 405,1515 412.3,1532.5" fill="none" stroke="#1a1a1a" stroke-width="1.5"/><path d="M803.7,1393.5 C811,1420 821,1450 821,1467.8 C821,1486 811,1515 803.7,1532.5" fill="none" stroke="#1a1a1a" stroke-width="1.5"/><path d="M390.4,1472.8L395.4,1462.8L400.4,1472.8" fill="none" stroke="#222" stroke-width="1.4"/><path d="M455.4,1472.5L460.4,1462.5L465.4,1472.5" fill="none" stroke="#222" stroke-width="1.4"/><path d="M504.4,1472.5L509.4,1462.5L514.4,1472.5" fill="none" stroke="#222" stroke-width="1.4"/><path d="M553.2,1472.5L558.2,1462.5L563.2,1472.5" fill="none" stroke="#222" stroke-width="1.4"/><path d="M602.2,1472.5L607.2,1462.5L612.2,1472.5" fill="none" stroke="#222" stroke-width="1.4"/><path d="M651.2,1472.5L656.2,1462.5L661.2,1472.5" fill="none" stroke="#222" stroke-width="1.4"/><path d="M700.2,1472.5L705.2,1462.5L710.2,1472.5" fill="none" stroke="#222" stroke-width="1.4"/><path d="M749.2,1472.5L754.2,1462.5L759.2,1472.5" fill="none" stroke="#222" stroke-width="1.4"/><path d="M815.8,1472.8L820.8,1462.8L825.8,1472.8" fill="none" stroke="#222" stroke-width="1.4"/><line x1="460.6" y1="1497.1" x2="460.6" y2="1459.3" stroke="#0a7cc8" stroke-width="3.8"/><path d="M460.6,1439.0L470.4,1462.3L460.6,1460.3L450.8,1462.3Z" fill="#0a7cc8"/><line x1="532.4" y1="1517.7" x2="532.4" y2="1479.3" stroke="#0a7cc8" stroke-width="3.8"/><path d="M532.4,1459.7L542.2,1482.3L532.4,1480.3L522.6,1482.3Z" fill="#0a7cc8"/><line x1="633.3" y1="1482.5" x2="633.3" y2="1445.4" stroke="#0a7cc8" stroke-width="3.8"/><path d="M633.3,1425.2L643.1,1448.4L633.3,1446.4L623.5,1448.4Z" fill="#0a7cc8"/><line x1="425" y1="1477.5" x2="425" y2="1467.5" stroke="#0a7cc8" stroke-width="1.4"/><path d="M425,1460.9L428.4,1468.7L421.6,1468.7Z" fill="#0a7cc8"/><rect x="429.7" y="1465" width="2.6" height="12.7" fill="#0a7cc8"/><rect x="437.6" y="1465" width="1.7" height="12.7" fill="#0a7cc8"/><rect x="445.4" y="1465" width="1.9" height="12.7" fill="#0a7cc8"/><rect x="429.7" y="1474.7" width="17.6" height="3.0" fill="#0a7cc8"/><line x1="519.8" y1="1448.5" x2="519.8" y2="1438.5" stroke="#0a7cc8" stroke-width="1.4"/><path d="M519.8,1431.9L523.2,1439.7L516.4,1439.7Z" fill="#0a7cc8"/><rect x="524.5" y="1436" width="2.6" height="12.7" fill="#0a7cc8"/><rect x="532.4" y="1436" width="1.7" height="12.7" fill="#0a7cc8"/><rect x="540.2" y="1436" width="1.9" height="12.7" fill="#0a7cc8"/><rect x="524.5" y="1445.7" width="17.6" height="3.0" fill="#0a7cc8"/><line x1="620.5" y1="1418.5" x2="620.5" y2="1408.5" stroke="#0a7cc8" stroke-width="1.4"/><path d="M620.5,1401.9L623.9,1409.7L617.1,1409.7Z" fill="#0a7cc8"/><rect x="625.2" y="1406" width="2.6" height="12.7" fill="#0a7cc8"/><rect x="633.1" y="1406" width="1.7" height="12.7" fill="#0a7cc8"/><rect x="640.9" y="1406" width="1.9" height="12.7" fill="#0a7cc8"/><rect x="625.2" y="1415.7" width="17.6" height="3.0" fill="#0a7cc8"/></g></svg>
</body></html>
